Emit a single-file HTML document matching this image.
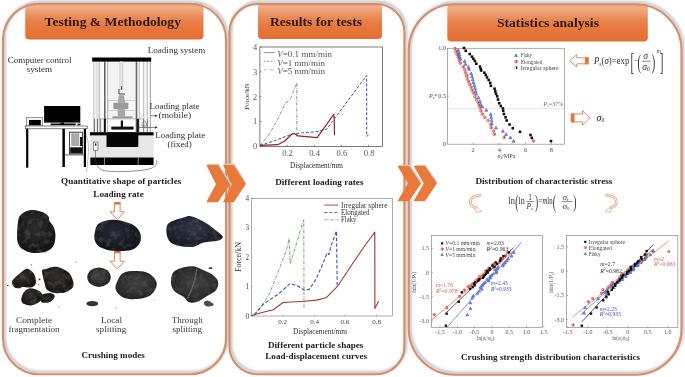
<!DOCTYPE html>
<html><head><meta charset="utf-8"><title>Graphical abstract</title>
<style>
html,body{margin:0;padding:0;background:#fff;}
body{width:685px;height:377px;overflow:hidden;}
svg{display:block;filter:blur(0.35px);font-family:"Liberation Serif","Times New Roman",serif;}
</style></head>
<body>
<svg width="685" height="377" viewBox="0 0 685 377">
<rect width="685" height="377" fill="#fff"/>
<defs>
<linearGradient id="hdr" x1="0" y1="0" x2="0" y2="1">
<stop offset="0" stop-color="#eda07a"/>
<stop offset="0.1" stop-color="#f0ae88"/>
<stop offset="0.42" stop-color="#e98652"/>
<stop offset="0.65" stop-color="#e7783e"/>
<stop offset="1" stop-color="#e36e33"/>
</linearGradient>
<radialGradient id="rockA" cx="0.45" cy="0.4" r="0.6">
<stop offset="0" stop-color="#2c2c2c"/><stop offset="1" stop-color="#151515"/>
</radialGradient>
<radialGradient id="rockE" cx="0.45" cy="0.4" r="0.6">
<stop offset="0" stop-color="#342d2a"/><stop offset="1" stop-color="#181413"/>
</radialGradient>
<radialGradient id="rockB" cx="0.45" cy="0.4" r="0.6">
<stop offset="0" stop-color="#262b36"/><stop offset="1" stop-color="#121419"/>
</radialGradient>
<radialGradient id="rockC" cx="0.5" cy="0.4" r="0.6">
<stop offset="0" stop-color="#2f3646"/><stop offset="1" stop-color="#171a22"/>
</radialGradient>
<radialGradient id="rockD" cx="0.5" cy="0.45" r="0.6">
<stop offset="0" stop-color="#414141"/><stop offset="1" stop-color="#222"/>
</radialGradient>
<filter id="tex" x="-5%" y="-5%" width="110%" height="110%">
<feTurbulence type="fractalNoise" baseFrequency="0.16" numOctaves="2" seed="5" result="n"/>
<feColorMatrix in="n" type="matrix" values="0 0 0 0 0.5  0 0 0 0 0.5  0 0 0 0 0.55  0.18 0 0 0 -0.08" result="w"/>
<feComposite in="w" in2="SourceGraphic" operator="in" result="wm"/>
<feMerge><feMergeNode in="SourceGraphic"/><feMergeNode in="wm"/></feMerge>
</filter>
<filter id="shb" x="-5%" y="-5%" width="110%" height="110%"><feGaussianBlur stdDeviation="0.9"/></filter>
</defs>
<rect x="25.2" y="3.6" width="178.3" height="35.8" rx="4" fill="url(#hdr)"/>
<text x="44.6" y="25.8" text-anchor="start" fill="#2a1a12" style="font-size:13.5px;font-weight:bold;" textLength="136.4" lengthAdjust="spacingAndGlyphs" >Testing &amp; Methodology</text>
<rect x="258.0" y="3.6" width="124.0" height="35.3" rx="4" fill="url(#hdr)"/>
<text x="270.0" y="26.1" text-anchor="start" fill="#2a1a12" style="font-size:13.5px;font-weight:bold;" textLength="92.0" lengthAdjust="spacingAndGlyphs" >Results for tests</text>
<rect x="447.3" y="3.8" width="200.49999999999994" height="37.7" rx="4" fill="url(#hdr)"/>
<text x="496.9" y="26.9" text-anchor="start" fill="#2a1a12" style="font-size:13.5px;font-weight:bold;" textLength="102.1" lengthAdjust="spacingAndGlyphs" >Statistics analysis</text>
<rect x="4.5" y="1.7999999999999998" width="223.1" height="370.4" rx="36" fill="none" stroke="#c3c9cc" stroke-width="2.8" filter="url(#shb)"/>
<rect x="3.0" y="3.8" width="223.1" height="370.4" rx="36" fill="none" stroke="#d88d66" stroke-width="2.1"/>
<rect x="231.0" y="2.0" width="174.89999999999998" height="370.3" rx="28" fill="none" stroke="#c3c9cc" stroke-width="2.8" filter="url(#shb)"/>
<rect x="229.5" y="4.0" width="174.89999999999998" height="370.3" rx="28" fill="none" stroke="#d88d66" stroke-width="2.1"/>
<rect x="410.3" y="2.3" width="272.7" height="370.5" rx="46" fill="none" stroke="#c3c9cc" stroke-width="2.8" filter="url(#shb)"/>
<rect x="408.8" y="4.3" width="272.7" height="370.5" rx="46" fill="none" stroke="#d88d66" stroke-width="2.1"/>
<path d="M207.10000000000002,163.8 L218.70000000000002,163.8 L230.70000000000002,183.0 L218.70000000000002,201.0 L207.10000000000002,201.0 L216.8,183.0 Z" fill="#c9c9c9"/>
<path d="M206.3,165 L217.9,165 L229.9,184.2 L217.9,202.2 L206.3,202.2 L216.0,184.2 Z" fill="#e8793b"/>
<path d="M223.8,163.8 L234.4,163.8 L246.5,183.0 L234.4,201.0 L223.8,201.0 L232.60000000000002,183.0 Z" fill="#c9c9c9"/>
<path d="M223.0,165 L233.6,165 L245.7,184.2 L233.6,202.2 L223.0,202.2 L231.8,184.2 Z" fill="#e8793b"/>
<path d="M398.3,164.8 L409.8,164.8 L421.8,182.20000000000002 L409.8,200.10000000000002 L398.3,200.10000000000002 L408.8,182.20000000000002 Z" fill="#c9c9c9"/>
<path d="M397.5,166 L409.0,166 L421.0,183.4 L409.0,201.3 L397.5,201.3 L408.0,183.4 Z" fill="#e8793b"/>
<path d="M414.40000000000003,164.8 L425.6,164.8 L437.6,182.20000000000002 L425.6,200.10000000000002 L414.40000000000003,200.10000000000002 L424.6,182.20000000000002 Z" fill="#c9c9c9"/>
<path d="M413.6,166 L424.8,166 L436.8,183.4 L424.8,201.3 L413.6,201.3 L423.8,183.4 Z" fill="#e8793b"/>
<rect x="107.5" y="61.4" width="28.8" height="57.2" fill="#f3f3f3" />
<rect x="95.5" y="61.4" width="4.2" height="70.6" fill="#e4e4e4" />
<rect x="143.6" y="61.4" width="3.8" height="70.6" fill="#f3f3f3" />
<line x1="93.9" y1="61.4" x2="93.9" y2="132.2" stroke="#777" stroke-width="0.5" />
<line x1="99.7" y1="61.4" x2="99.7" y2="132.2" stroke="#888" stroke-width="0.5" />
<line x1="104.8" y1="61.4" x2="104.8" y2="132.2" stroke="#666" stroke-width="1.6" />
<line x1="107.6" y1="61.4" x2="107.6" y2="132.2" stroke="#888" stroke-width="0.6" />
<line x1="136.5" y1="61.4" x2="136.5" y2="132.2" stroke="#666" stroke-width="1.6" />
<line x1="139.2" y1="61.4" x2="139.2" y2="132.2" stroke="#888" stroke-width="0.6" />
<line x1="143.6" y1="61.4" x2="143.6" y2="132.2" stroke="#888" stroke-width="0.5" />
<line x1="147.4" y1="61.4" x2="147.4" y2="132.2" stroke="#888" stroke-width="0.5" />
<line x1="150.3" y1="61.4" x2="150.3" y2="132.2" stroke="#555" stroke-width="0.6" />
<rect x="92.2" y="57.5" width="59.0" height="4.1" fill="#000" />
<rect x="119.9" y="61.4" width="3.0" height="27.6" fill="#e6e6e6" stroke="#aaa" stroke-width="0.4"/>
<path d="M119,89 L119,94 L125,94" fill="none" stroke="#333" stroke-width="0.9" />
<line x1="121.5" y1="86" x2="121.5" y2="90" stroke="#333" stroke-width="0.8" />
<rect x="108.1" y="100.6" width="27.6" height="10.0" fill="#f7f7f7" stroke="#999" stroke-width="0.4"/>
<path d="M117.7,102.7 L118.8,95.3 L124.0,95.3 L125.1,102.7 Z" fill="#a6a6a6" stroke="none" stroke-width="0.6" />
<rect x="113.4" y="102.7" width="14.9" height="6.4" fill="#9c9c9c" />
<rect x="117.7" y="109.1" width="7.4" height="7.4" fill="#a8a8a8" />
<rect x="112.4" y="116.3" width="20.1" height="2.0" fill="#9a9a9a" />
<line x1="99.7" y1="118.9" x2="143.6" y2="118.9" stroke="#777" stroke-width="0.5" />
<line x1="94.4" y1="118.9" x2="94.4" y2="132.2" stroke="#222" stroke-width="0.6" />
<line x1="97.5" y1="118.9" x2="97.5" y2="132.2" stroke="#222" stroke-width="0.6" />
<line x1="100.7" y1="118.9" x2="100.7" y2="132.2" stroke="#222" stroke-width="0.6" />
<rect x="103.8" y="118.9" width="2.0" height="13.3" fill="#111" />
<rect x="136.8" y="118.9" width="2.1" height="13.3" fill="#111" />
<line x1="143.6" y1="118.9" x2="143.6" y2="132.2" stroke="#444" stroke-width="0.5" />
<line x1="147.4" y1="118.9" x2="147.4" y2="132.2" stroke="#444" stroke-width="0.5" />
<rect x="111.3" y="126.6" width="22.3" height="3.0" fill="#111" />
<rect x="120.8" y="120.5" width="2.2" height="7.5" fill="#111" />
<path d="M142,126 L142,122.6 L144.2,121.2 L146.3,122.6 L146.3,126 Z" fill="none" stroke="#444" stroke-width="0.5" />
<rect x="90.0" y="132.2" width="63.6" height="3.4" fill="#000" />
<rect x="90.0" y="135.6" width="63.6" height="21.9" fill="#e7e7e7" />
<path d="M106.5,147 L106.5,135 L109.5,132.6 L135.3,132.6 L138.3,135 L138.3,147 Z" fill="#050505" stroke="none" stroke-width="0.6" />
<rect x="90.3" y="157.5" width="63.3" height="7.5" fill="#000" />
<rect x="104.3" y="157.5" width="0.6" height="7.5" fill="#ddd" />
<rect x="137.8" y="157.5" width="0.6" height="7.5" fill="#ddd" />
<rect x="93.3" y="142.0" width="4.7" height="8.5" fill="#f4f4f4" stroke="#333" stroke-width="0.5"/>
<rect x="95.0" y="143.5" width="1.4" height="2.0" fill="#111" />
<path d="M95.5,150.5 C95.5,160 95,166 101.8,170 C110,172.5 135,172 148.3,169.2 C155,167.5 158,164 156.4,160.3" fill="none" stroke="#444" stroke-width="0.6" />
<path d="M84.1,131.4 C89,138 89,150 88,158 C87.5,163 87,168 86.5,172" fill="none" stroke="#999" stroke-width="0.6" />
<line x1="150.7" y1="115.7" x2="156.5" y2="115.7" stroke="#333" stroke-width="0.6" />
<path d="M155.2,114.4 L157.6,115.7 L155.2,117 Z" fill="#333" stroke="none" stroke-width="0.6" />
<line x1="138.5" y1="127.4" x2="156.5" y2="127.4" stroke="#333" stroke-width="0.6" />
<path d="M155.2,126.1 L157.6,127.4 L155.2,128.7 Z" fill="#333" stroke="none" stroke-width="0.6" />
<rect x="44.1" y="106.0" width="36.2" height="16.6" fill="#000" />
<rect x="50.6" y="123.5" width="25.1" height="1.7" fill="#000" />
<rect x="60.5" y="122.5" width="3.5" height="1.5" fill="#000" />
<rect x="77.5" y="123.6" width="3.0" height="1.6" fill="#000" />
<rect x="26.5" y="117.6" width="16.1" height="8.2" fill="#f2f2f2" stroke="#444" stroke-width="0.5"/>
<rect x="29.0" y="120.0" width="11.8" height="5.0" fill="#000" />
<rect x="25.6" y="126.0" width="61.6" height="2.8" fill="#fff" stroke="#333" stroke-width="0.6"/>
<rect x="26.1" y="128.8" width="2.2" height="38.9" fill="#000" />
<rect x="62.4" y="128.8" width="2.5" height="38.2" fill="#000" />
<rect x="83.8" y="128.8" width="2.2" height="38.2" fill="#000" />
<rect x="69.4" y="132.2" width="13.0" height="21.7" fill="#fff" stroke="#111" stroke-width="0.8"/>
<rect x="71.2" y="133.3" width="8.1" height="12.7" fill="#a9a9a9" />
<rect x="80.0" y="137.0" width="2.2" height="9.0" fill="#111" />
<rect x="70.2" y="147.3" width="12.0" height="6.0" fill="#111" />
<line x1="64.9" y1="154.9" x2="83.8" y2="154.9" stroke="#444" stroke-width="0.8" />
<text x="7.7" y="62.5" text-anchor="start" fill="#2f2f2f" style="font-size:9.2px;" textLength="63.9" lengthAdjust="spacingAndGlyphs" >Computer control</text>
<text x="26.8" y="71.6" text-anchor="start" fill="#2f2f2f" style="font-size:9.2px;" textLength="25.2" lengthAdjust="spacingAndGlyphs" >system</text>
<text x="147.8" y="53.0" text-anchor="start" fill="#2f2f2f" style="font-size:9.2px;" textLength="57.5" lengthAdjust="spacingAndGlyphs" >Loading system</text>
<text x="149.5" y="109.1" text-anchor="start" fill="#2f2f2f" style="font-size:9.2px;" textLength="50.0" lengthAdjust="spacingAndGlyphs" >Loading plate</text>
<text x="158.6" y="118.3" text-anchor="start" fill="#2f2f2f" style="font-size:9.2px;" textLength="32.6" lengthAdjust="spacingAndGlyphs" >(mobile)</text>
<text x="155.2" y="138.1" text-anchor="start" fill="#2f2f2f" style="font-size:9.2px;" textLength="50.0" lengthAdjust="spacingAndGlyphs" >Loading plate</text>
<text x="167.6" y="146.7" text-anchor="start" fill="#2f2f2f" style="font-size:9.2px;" textLength="24.1" lengthAdjust="spacingAndGlyphs" >(fixed)</text>
<text x="61.0" y="183.6" text-anchor="start" fill="#222" style="font-size:9.1px;font-weight:bold;" textLength="120.3" lengthAdjust="spacingAndGlyphs" >Quantitative shape of particles</text>
<text x="93.3" y="196.9" text-anchor="start" fill="#222" style="font-size:9.1px;font-weight:bold;" textLength="50.4" lengthAdjust="spacingAndGlyphs" >Loading rate</text>
<text x="16.0" y="323.4" text-anchor="start" fill="#3a3a3a" style="font-size:9.2px;" textLength="36.0" lengthAdjust="spacingAndGlyphs" >Complete</text>
<text x="8.4" y="332.0" text-anchor="start" fill="#3a3a3a" style="font-size:9.2px;" textLength="51.2" lengthAdjust="spacingAndGlyphs" >fragmentation</text>
<text x="101.0" y="323.2" text-anchor="start" fill="#3a3a3a" style="font-size:9.2px;" textLength="21.0" lengthAdjust="spacingAndGlyphs" >Local</text>
<text x="96.0" y="332.2" text-anchor="start" fill="#3a3a3a" style="font-size:9.2px;" textLength="30.3" lengthAdjust="spacingAndGlyphs" >splitting</text>
<text x="171.7" y="323.2" text-anchor="start" fill="#3a3a3a" style="font-size:9.2px;" textLength="31.0" lengthAdjust="spacingAndGlyphs" >Through</text>
<text x="172.4" y="332.2" text-anchor="start" fill="#3a3a3a" style="font-size:9.2px;" textLength="29.6" lengthAdjust="spacingAndGlyphs" >splitting</text>
<text x="81.5" y="358.3" text-anchor="start" fill="#222" style="font-size:9.1px;font-weight:bold;" textLength="63.3" lengthAdjust="spacingAndGlyphs" >Crushing modes</text>
<path d="M114.5,202.6 L120.1,202.6 L120.1,211.79999999999998 L124.5,211.79999999999998 L117.3,219.6 L110.1,211.79999999999998 L114.5,211.79999999999998 Z" fill="#fff" stroke="#e08a55" stroke-width="1.0" />
<rect x="114.0" y="202.1" width="6.6" height="2.5" fill="#e07a3e" />
<path d="M114.5,251.3 L120.1,251.3 L120.1,261.2 L124.5,261.2 L117.3,269.0 L110.1,261.2 L114.5,261.2 Z" fill="#fff" stroke="#e08a55" stroke-width="1.0" />
<rect x="114.0" y="250.8" width="6.6" height="2.5" fill="#e07a3e" />
<path d="M17.6,225.2 C18.0,222.4 18.1,219.0 19.3,216.8 C20.6,214.6 22.7,212.9 25.1,211.8 C27.5,210.7 30.4,210.0 33.5,210.1 C36.6,210.2 41.1,211.5 43.6,212.6 C46.1,213.7 47.6,215.4 48.6,216.8 C49.6,218.2 48.6,219.3 49.5,221.0 C50.4,222.7 52.7,224.5 53.7,226.9 C54.7,229.3 55.4,232.2 55.4,235.3 C55.4,238.4 55.1,242.7 53.7,245.3 C52.3,248.0 50.4,249.9 47.0,251.2 C43.6,252.5 37.7,253.3 33.5,252.9 C29.3,252.5 24.4,250.5 21.8,248.7 C19.2,246.9 18.4,244.5 17.6,242.0 C16.8,239.5 17.1,236.4 17.1,233.6 C17.1,230.8 17.2,228.0 17.6,225.2 Z" fill="url(#rockA)" stroke="none" stroke-width="0.6" filter="url(#tex)"/>
<path d="M94.5,234.2 C94.9,231.4 95.8,226.9 97.7,224.6 C99.7,222.3 103.0,221.2 106.2,220.4 C109.4,219.6 113.3,219.7 116.8,220.0 C120.3,220.3 124.1,221.4 127.3,222.5 C130.5,223.6 133.6,224.9 135.8,226.8 C138.0,228.8 139.8,231.6 140.5,234.2 C141.2,236.8 141.1,240.1 140.0,242.6 C138.9,245.1 136.5,247.6 133.7,249.0 C130.9,250.4 127.0,250.8 123.1,251.1 C119.2,251.3 114.3,251.2 110.4,250.5 C106.5,249.8 102.3,248.4 99.8,246.9 C97.3,245.4 96.1,243.7 95.2,241.6 C94.3,239.5 94.1,237.0 94.5,234.2 Z" fill="url(#rockB)" stroke="none" stroke-width="0.6" filter="url(#tex)"/>
<path d="M167.6,224.6 C168.8,222.5 171.1,221.6 173.9,220.4 C176.7,219.2 181.7,217.9 184.5,217.2 C187.3,216.5 187.6,215.5 190.8,216.2 C194.0,216.9 199.6,219.4 203.5,221.5 C207.4,223.6 210.9,226.4 214.1,228.9 C217.3,231.4 221.9,234.4 222.6,236.3 C223.3,238.2 221.6,239.4 218.4,240.5 C215.2,241.6 207.7,241.5 203.5,242.6 C199.3,243.7 197.2,246.4 193.0,246.9 C188.8,247.4 182.0,246.7 178.1,245.8 C174.2,244.9 171.6,243.7 169.7,241.6 C167.8,239.5 166.8,235.9 166.5,233.1 C166.2,230.3 166.4,226.7 167.6,224.6 Z" fill="url(#rockC)" stroke="none" stroke-width="0.6" filter="url(#tex)"/>
<path d="M11.9,282.1 C12.0,280.6 13.3,279.4 14.7,277.9 C16.1,276.4 18.4,274.6 20.2,273.1 C22.0,271.6 24.0,269.5 25.7,269.0 C27.4,268.5 29.0,269.3 30.5,270.3 C32.0,271.3 33.8,273.2 34.7,275.2 C35.6,277.2 36.1,280.3 36.0,282.1 C35.9,283.9 35.1,285.3 34.0,286.2 C32.9,287.1 31.0,287.5 29.1,287.6 C27.2,287.7 24.6,286.8 22.9,286.9 C21.2,287.0 20.3,288.3 18.8,288.3 C17.3,288.3 15.2,287.9 14.0,286.9 C12.8,285.9 11.8,283.6 11.9,282.1 Z" fill="url(#rockE)" stroke="none" stroke-width="0.6" filter="url(#tex)"/>
<path d="M42.2,270.3 C42.8,269.0 45.0,269.4 46.4,269.0 C47.8,268.6 48.7,268.0 50.5,267.6 C52.3,267.2 55.1,266.5 57.4,266.9 C59.7,267.2 62.2,268.5 64.3,269.7 C66.4,270.9 68.3,271.7 69.8,273.8 C71.3,275.9 72.8,279.8 73.3,282.1 C73.8,284.4 73.6,286.0 72.6,287.6 C71.6,289.2 69.2,290.8 67.1,291.7 C65.0,292.6 62.7,293.0 60.2,293.1 C57.7,293.2 54.2,293.1 51.9,292.4 C49.6,291.7 47.7,290.7 46.4,289.0 C45.1,287.3 44.9,284.2 44.3,282.1 C43.7,280.0 43.2,278.6 42.9,276.6 C42.5,274.6 41.6,271.6 42.2,270.3 Z" fill="url(#rockE)" stroke="none" stroke-width="0.6" filter="url(#tex)"/>
<path d="M21.6,297.2 C22.1,295.6 22.9,293.2 24.3,291.7 C25.7,290.2 27.7,288.6 29.8,288.3 C31.9,288.0 34.7,288.9 36.7,289.7 C38.7,290.5 40.7,291.6 41.6,293.1 C42.5,294.6 42.8,297.0 42.2,298.6 C41.6,300.2 39.9,301.7 38.1,302.8 C36.3,303.9 33.5,305.3 31.2,305.5 C28.9,305.7 25.9,304.8 24.3,304.1 C22.7,303.4 22.1,302.5 21.6,301.4 C21.2,300.2 21.2,298.8 21.6,297.2 Z" fill="url(#rockE)" stroke="none" stroke-width="0.6" filter="url(#tex)"/>
<path d="M42.2,294.5 C43.1,293.2 44.6,293.8 46.0,293.6 C47.4,293.4 49.0,292.7 50.5,293.1 C52.0,293.5 54.5,294.6 54.7,295.9 C54.9,297.2 53.3,299.5 51.9,300.7 C50.5,301.9 48.2,302.7 46.4,302.8 C44.6,302.9 41.6,302.8 40.9,301.4 C40.2,300.0 41.4,295.8 42.2,294.5 Z" fill="#221c1b" stroke="none" stroke-width="0.6" filter="url(#tex)"/>
<ellipse cx="99" cy="277.2" rx="11.7" ry="9.7" fill="url(#rockD)" filter="url(#tex)"/>
<ellipse cx="92.3" cy="303.7" rx="5.9" ry="2.6" fill="#333"/>
<path d="M115.5,287.4 C115.5,285.1 116.9,281.8 118.1,279.5 C119.3,277.2 120.3,274.8 122.5,273.4 C124.7,272.0 127.8,271.4 131.3,271.1 C134.8,270.8 140.0,270.8 143.5,271.6 C147.0,272.4 150.1,274.1 152.3,276.0 C154.5,277.9 156.3,280.7 156.7,283.0 C157.1,285.3 156.2,287.8 154.9,290.0 C153.6,292.2 151.9,294.7 148.8,296.2 C145.7,297.7 140.6,298.8 136.5,299.1 C132.4,299.4 127.4,298.8 124.3,297.9 C121.2,297.0 119.6,295.2 118.1,293.5 C116.6,291.8 115.5,289.7 115.5,287.4 Z" fill="url(#rockD)" stroke="none" stroke-width="0.6" filter="url(#tex)"/>
<path d="M171.6,276.0 C172.2,273.7 173.1,272.2 175.1,270.8 C177.1,269.4 180.6,268.0 183.8,267.3 C187.0,266.6 191.1,266.0 194.3,266.4 C197.5,266.8 200.2,268.6 203.1,269.9 C206.0,271.2 209.4,272.4 211.9,274.3 C214.4,276.2 217.3,278.7 218.0,281.3 C218.7,283.9 217.8,287.7 216.2,290.0 C214.6,292.3 211.4,293.4 208.4,295.3 C205.4,297.2 201.1,300.2 197.9,301.4 C194.7,302.6 191.4,303.0 189.1,302.3 C186.8,301.6 186.1,298.8 183.8,297.0 C181.5,295.2 177.2,293.8 175.1,291.8 C173.0,289.8 171.8,287.4 171.2,284.8 C170.6,282.2 170.9,278.3 171.6,276.0 Z" fill="url(#rockD)" stroke="none" stroke-width="0.6" filter="url(#tex)"/>
<path d="M197,268.5 C196,274 195,279 194.3,281.3 C192.5,288 190,294 187.3,298.8" fill="none" stroke="#9a9a9a" stroke-width="1.1" />
<path d="M197,268.5 C196,274 195,279 194.3,281.3 C192.5,288 190,294 187.3,298.8" fill="none" stroke="#151515" stroke-width="0.5" />
<path d="M204.0,302.3 C204.3,301.5 205.8,300.6 207.0,300.5 C208.2,300.4 209.9,301.2 211.0,302.0 C212.1,302.8 213.9,304.2 213.6,305.0 C213.3,305.8 210.4,306.4 209.0,306.5 C207.6,306.6 205.8,306.2 205.0,305.5 C204.2,304.8 203.7,303.1 204.0,302.3 Z" fill="#444" stroke="none" stroke-width="0.6" filter="url(#tex)"/>
<ellipse cx="210.5" cy="268.2" rx="2" ry="0.9" fill="#333"/>
<circle cx="39.5" cy="279.3" r="1.0" fill="#444"/>
<circle cx="7.8" cy="285.5" r="0.8" fill="#444"/>
<circle cx="31.2" cy="264.8" r="0.6" fill="#444"/>
<circle cx="38.5" cy="284.5" r="0.5" fill="#444"/>
<circle cx="59" cy="307" r="0.5" fill="#444"/>
<circle cx="76" cy="262" r="0.5" fill="#444"/>
<circle cx="116" cy="308" r="0.5" fill="#444"/>
<circle cx="45" cy="252" r="0.7" fill="#444"/>
<circle cx="154" cy="300" r="0.4" fill="#444"/>
<rect x="259.9" y="47.0" width="122.70000000000005" height="99.4" fill="none" stroke="#444" stroke-width="0.7"/>
<text x="257.2" y="149.3" text-anchor="end" fill="#555" style="font-size:8.4px;" >0</text>
<line x1="259.9" y1="146.4" x2="261.5" y2="146.4" stroke="#444" stroke-width="0.6" />
<text x="257.2" y="124.45000000000002" text-anchor="end" fill="#555" style="font-size:8.4px;" >1</text>
<line x1="259.9" y1="121.55000000000001" x2="261.5" y2="121.55000000000001" stroke="#444" stroke-width="0.6" />
<text x="257.2" y="99.60000000000001" text-anchor="end" fill="#555" style="font-size:8.4px;" >2</text>
<line x1="259.9" y1="96.7" x2="261.5" y2="96.7" stroke="#444" stroke-width="0.6" />
<text x="257.2" y="74.75" text-anchor="end" fill="#555" style="font-size:8.4px;" >3</text>
<line x1="259.9" y1="71.85" x2="261.5" y2="71.85" stroke="#444" stroke-width="0.6" />
<text x="257.2" y="49.9" text-anchor="end" fill="#555" style="font-size:8.4px;" >4</text>
<line x1="259.9" y1="47.0" x2="261.5" y2="47.0" stroke="#444" stroke-width="0.6" />
<text x="287.49999999999994" y="156.4" text-anchor="middle" fill="#555" style="font-size:8.6px;" >0.2</text>
<line x1="287.09999999999997" y1="146.4" x2="287.09999999999997" y2="144.8" stroke="#444" stroke-width="0.6" />
<text x="314.69999999999993" y="156.4" text-anchor="middle" fill="#555" style="font-size:8.6px;" >0.4</text>
<line x1="314.29999999999995" y1="146.4" x2="314.29999999999995" y2="144.8" stroke="#444" stroke-width="0.6" />
<text x="341.9" y="156.4" text-anchor="middle" fill="#555" style="font-size:8.6px;" >0.6</text>
<line x1="341.5" y1="146.4" x2="341.5" y2="144.8" stroke="#444" stroke-width="0.6" />
<text x="369.09999999999997" y="156.4" text-anchor="middle" fill="#555" style="font-size:8.6px;" >0.8</text>
<line x1="368.7" y1="146.4" x2="368.7" y2="144.8" stroke="#444" stroke-width="0.6" />
<text x="316.5" y="168.4" text-anchor="middle" fill="#2a2a2a" style="font-size:7.6px;" textLength="53" lengthAdjust="spacingAndGlyphs" >Displacement/mm</text>
<text x="0" y="0" text-anchor="middle" fill="#333" style="font-size:6.4px;" textLength="26.6" lengthAdjust="spacingAndGlyphs" transform="translate(248.5,96.5) rotate(-90)">Force/kN</text>
<line x1="263.7" y1="52.6" x2="274.9" y2="52.6" stroke="#888" stroke-width="0.9" />
<line x1="263.7" y1="61.2" x2="274.9" y2="61.2" stroke="#888" stroke-width="0.9" stroke-dasharray="2,1.5"/>
<line x1="263.7" y1="69.9" x2="274.9" y2="69.9" stroke="#aaa" stroke-width="0.8" stroke-dasharray="3,1.2,0.8,1.2"/>
<text x="277.3" y="57.0" text-anchor="start" fill="#555" style="font-size:8.4px;" textLength="54.6" lengthAdjust="spacingAndGlyphs" ><tspan font-style="italic">V</tspan>=0.1 mm/min</text>
<text x="277.3" y="65.7" text-anchor="start" fill="#555" style="font-size:8.4px;" textLength="47.8" lengthAdjust="spacingAndGlyphs" ><tspan font-style="italic">V</tspan>=1 mm/min</text>
<text x="277.3" y="74.4" text-anchor="start" fill="#555" style="font-size:8.4px;" textLength="47.8" lengthAdjust="spacingAndGlyphs" ><tspan font-style="italic">V</tspan>=5 mm/min</text>
<path d="M260.2,145.4 L269.3,134.0 L278.9,117.3 L284.8,104.2 L290.8,98.2 L296.8,82.7 L296.8,137.6" fill="none" stroke="#5e9a52" stroke-width="0.9" stroke-dasharray="3,1.2,0.8,1.2" stroke-linejoin="round" />
<path d="M260.0,145.4 L274.0,141.0 L292.0,134.0 L302.7,132.8 L317.0,131.6 L326.6,129.2 L366.7,75.5 L366.7,136.4 L368.6,134.8" fill="none" stroke="#3d4fae" stroke-width="1.0" stroke-dasharray="3,1.8" stroke-linejoin="round" />
<path d="M260.0,145.4 L277.7,144.7 L284.8,141.0 L292.0,134.0 L294.4,133.5 L298.0,135.9 L317.0,137.6 L320.6,132.8 L333.8,114.4 L334.3,120.0 L334.5,135.2" fill="none" stroke="#8e2430" stroke-width="1.2" stroke-linejoin="round" />
<text x="275.2" y="185.4" text-anchor="start" fill="#222" style="font-size:9.1px;font-weight:bold;" textLength="88.3" lengthAdjust="spacingAndGlyphs" >Different loading rates</text>
<rect x="251.4" y="198.5" width="141.1" height="117.5" fill="none" stroke="#9a9a9a" stroke-width="0.8"/>
<text x="249.0" y="318.5" text-anchor="end" fill="#444" style="font-size:7.2px;" >0</text>
<line x1="251.4" y1="316.0" x2="252.9" y2="316.0" stroke="#777" stroke-width="0.5" />
<text x="249.0" y="289.1" text-anchor="end" fill="#444" style="font-size:7.2px;" >1</text>
<line x1="251.4" y1="286.6" x2="252.9" y2="286.6" stroke="#777" stroke-width="0.5" />
<text x="249.0" y="259.7" text-anchor="end" fill="#444" style="font-size:7.2px;" >2</text>
<line x1="251.4" y1="257.2" x2="252.9" y2="257.2" stroke="#777" stroke-width="0.5" />
<text x="249.0" y="230.3" text-anchor="end" fill="#444" style="font-size:7.2px;" >3</text>
<line x1="251.4" y1="227.8" x2="252.9" y2="227.8" stroke="#777" stroke-width="0.5" />
<text x="249.0" y="200.9" text-anchor="end" fill="#444" style="font-size:7.2px;" >4</text>
<line x1="251.4" y1="198.4" x2="252.9" y2="198.4" stroke="#777" stroke-width="0.5" />
<text x="282.6" y="323.8" text-anchor="middle" fill="#444" style="font-size:7.0px;" >0.2</text>
<line x1="282.6" y1="316.0" x2="282.6" y2="314.5" stroke="#777" stroke-width="0.5" />
<text x="314.5" y="323.8" text-anchor="middle" fill="#444" style="font-size:7.0px;" >0.4</text>
<line x1="314.5" y1="316.0" x2="314.5" y2="314.5" stroke="#777" stroke-width="0.5" />
<text x="344.8" y="323.8" text-anchor="middle" fill="#444" style="font-size:7.0px;" >0.6</text>
<line x1="344.8" y1="316.0" x2="344.8" y2="314.5" stroke="#777" stroke-width="0.5" />
<text x="376.5" y="323.8" text-anchor="middle" fill="#444" style="font-size:7.0px;" >0.8</text>
<line x1="376.5" y1="316.0" x2="376.5" y2="314.5" stroke="#777" stroke-width="0.5" />
<text x="320.0" y="333.6" text-anchor="middle" fill="#333" style="font-size:7.6px;" textLength="54" lengthAdjust="spacingAndGlyphs" >Displacement/mm</text>
<text x="0" y="0" text-anchor="middle" fill="#333" style="font-size:7.2px;" textLength="30" lengthAdjust="spacingAndGlyphs" transform="translate(241.2,257.0) rotate(-90)">Force/kN</text>
<line x1="324.3" y1="205.1" x2="338.3" y2="205.1" stroke="#9c3a32" stroke-width="0.9" />
<line x1="324.3" y1="212.6" x2="338.3" y2="212.6" stroke="#3d4fae" stroke-width="0.9" stroke-dasharray="3,2"/>
<line x1="324.3" y1="219.8" x2="338.3" y2="219.8" stroke="#5e9a52" stroke-width="0.8" stroke-dasharray="3,1.2,0.8,1.2"/>
<text x="341.0" y="207.6" text-anchor="start" fill="#333" style="font-size:7.4px;" textLength="46.4" lengthAdjust="spacingAndGlyphs" >Irregular sphere</text>
<text x="341.0" y="215.1" text-anchor="start" fill="#333" style="font-size:7.4px;" textLength="28.5" lengthAdjust="spacingAndGlyphs" >Elongated</text>
<text x="341.0" y="222.3" text-anchor="start" fill="#333" style="font-size:7.4px;" textLength="15.5" lengthAdjust="spacingAndGlyphs" >Flaky</text>
<path d="M254.3,315.7 L268.7,295.4 L275.6,278.4 L286.6,250.0 L289.1,238.3 L290.2,263.8 L303.8,219.8 L304.0,308.5" fill="none" stroke="#5e9a52" stroke-width="0.9" stroke-dasharray="3,1.2,0.8,1.2" stroke-linejoin="round" />
<path d="M254.3,314.5 L263.9,303.7 L278.2,294.2 L290.2,283.4 L297.3,285.8 L304.5,290.1 L309.3,289.4 L316.4,278.6 L323.6,261.9 L327.0,253.0 L329.0,254.5 L331.0,246.0 L336.5,231.0 L337.2,285.8" fill="none" stroke="#3d4fae" stroke-width="1.1" stroke-dasharray="3.5,2" stroke-linejoin="round" />
<path d="M250.7,315.7 L259.1,313.3 L273.4,309.7 L283.0,302.5 L304.5,301.3 L316.4,300.1 L326.0,297.8 L337.9,285.8 L352.2,264.3 L361.8,250.0 L366.0,244.0 L370.5,238.0 L374.8,232.2 L374.9,308.5 L378.5,301.3" fill="none" stroke="#9c3a32" stroke-width="1.1" stroke-linejoin="round" />
<text x="268.0" y="347.8" text-anchor="start" fill="#222" style="font-size:9.1px;font-weight:bold;" textLength="95.4" lengthAdjust="spacingAndGlyphs" >Different particle shapes</text>
<text x="265.3" y="359.4" text-anchor="start" fill="#222" style="font-size:9.1px;font-weight:bold;" textLength="101.8" lengthAdjust="spacingAndGlyphs" >Load-displacement curves</text>
<rect x="447.4" y="48.3" width="116.89999999999998" height="95.89999999999999" fill="none" stroke="#8a8a8a" stroke-width="0.7"/>
<text x="446.0" y="50.2" text-anchor="end" fill="#444" style="font-size:6.2px;" >1.0</text>
<text x="446.0" y="98.2" text-anchor="end" fill="#444" style="font-size:6.2px;" >0.5</text>
<text x="446.0" y="146.2" text-anchor="end" fill="#444" style="font-size:6.2px;" >0</text>
<line x1="447.4" y1="96.2" x2="448.9" y2="96.2" stroke="#666" stroke-width="0.5" />
<text x="429.0" y="98.0" text-anchor="start" fill="#444" style="font-size:6.0px;" ><tspan font-style="italic">P</tspan><tspan font-size="4" dy="1.2">s</tspan><tspan dy="-1.2">*</tspan></text>
<text x="473.2" y="151.5" text-anchor="middle" fill="#444" style="font-size:6.4px;" >2</text>
<line x1="473.2" y1="144.2" x2="473.2" y2="142.7" stroke="#666" stroke-width="0.5" />
<text x="499.3" y="151.5" text-anchor="middle" fill="#444" style="font-size:6.4px;" >4</text>
<line x1="499.3" y1="144.2" x2="499.3" y2="142.7" stroke="#666" stroke-width="0.5" />
<text x="525.5" y="151.5" text-anchor="middle" fill="#444" style="font-size:6.4px;" >6</text>
<line x1="525.5" y1="144.2" x2="525.5" y2="142.7" stroke="#666" stroke-width="0.5" />
<text x="551.4" y="151.5" text-anchor="middle" fill="#444" style="font-size:6.4px;" >8</text>
<line x1="551.4" y1="144.2" x2="551.4" y2="142.7" stroke="#666" stroke-width="0.5" />
<text x="506.5" y="158.2" text-anchor="middle" fill="#444" style="font-size:6.2px;" ><tspan font-style="italic">σ</tspan><tspan font-size="4" dy="1">f</tspan><tspan dy="-1">/MPa</tspan></text>
<line x1="447.4" y1="108.8" x2="564.3" y2="108.8" stroke="#999" stroke-width="0.6" stroke-dasharray="0.9,1.1"/>
<text x="543.6" y="106.2" text-anchor="start" fill="#666" style="font-size:6.0px;" ><tspan font-style="italic">P</tspan><tspan font-size="4" dy="1">s</tspan><tspan dy="-1">=37%</tspan></text>
<path d="M516.0,53.9 L517.4,56.5 L514.6,56.5 Z" fill="#8da0e0" stroke="#3b55b5" stroke-width="0.6"/>
<circle cx="516.0" cy="61.6" r="1.4" fill="#f2c0b8" stroke="#d9473c" stroke-width="0.6"/>
<path d="M516.0,60.2 A1.4,1.4 0 0 1 516.0,63.0 Z" fill="#d9473c"/>
<rect x="514.7" y="66.4" width="2.6" height="2.6" fill="#111"/>
<rect x="514.7" y="66.4" width="1.3" height="2.6" fill="#fff"/>
<text x="520.8" y="57.4" text-anchor="start" fill="#444" style="font-size:6.0px;" textLength="11.0" lengthAdjust="spacingAndGlyphs" >Flaky</text>
<text x="520.8" y="63.7" text-anchor="start" fill="#444" style="font-size:6.0px;" textLength="21.5" lengthAdjust="spacingAndGlyphs" >Elongated</text>
<text x="520.8" y="69.8" text-anchor="start" fill="#444" style="font-size:6.0px;" textLength="37.9" lengthAdjust="spacingAndGlyphs" >Irregular sphere</text>
<rect x="462.7" y="46.7" width="2.6" height="2.6" fill="#111"/>
<rect x="464.5" y="49.5" width="2.6" height="2.6" fill="#111"/>
<rect x="468.5" y="52.7" width="2.6" height="2.6" fill="#111"/>
<rect x="470.7" y="55.4" width="2.6" height="2.6" fill="#111"/>
<rect x="472.1" y="57.5" width="2.6" height="2.6" fill="#111"/>
<rect x="473.6" y="59.7" width="2.6" height="2.6" fill="#111"/>
<rect x="475.0" y="62.4" width="2.6" height="2.6" fill="#111"/>
<rect x="478.7" y="65.3" width="2.6" height="2.6" fill="#111"/>
<rect x="479.4" y="67.7" width="2.6" height="2.6" fill="#111"/>
<rect x="479.9" y="69.2" width="2.6" height="2.6" fill="#111"/>
<rect x="483.1" y="71.4" width="2.6" height="2.6" fill="#111"/>
<rect x="484.5" y="73.6" width="2.6" height="2.6" fill="#111"/>
<rect x="485.7" y="76.1" width="2.6" height="2.6" fill="#111"/>
<rect x="487.4" y="78.7" width="2.6" height="2.6" fill="#111"/>
<rect x="488.9" y="81.6" width="2.6" height="2.6" fill="#111"/>
<rect x="489.6" y="84.5" width="2.6" height="2.6" fill="#111"/>
<rect x="493.3" y="87.4" width="2.6" height="2.6" fill="#111"/>
<rect x="494.0" y="90.1" width="2.6" height="2.6" fill="#111"/>
<rect x="494.7" y="92.5" width="2.6" height="2.6" fill="#111"/>
<rect x="495.9" y="95.0" width="2.6" height="2.6" fill="#111"/>
<rect x="496.7" y="98.2" width="2.6" height="2.6" fill="#111"/>
<rect x="497.9" y="101.9" width="2.6" height="2.6" fill="#111"/>
<rect x="499.5" y="104.7" width="2.6" height="2.6" fill="#111"/>
<rect x="501.6" y="107.2" width="2.6" height="2.6" fill="#111"/>
<rect x="501.9" y="109.6" width="2.6" height="2.6" fill="#111"/>
<rect x="502.7" y="112.8" width="2.6" height="2.6" fill="#111"/>
<rect x="504.3" y="116.0" width="2.6" height="2.6" fill="#111"/>
<rect x="505.4" y="119.2" width="2.6" height="2.6" fill="#111"/>
<rect x="508.3" y="123.2" width="2.6" height="2.6" fill="#111"/>
<rect x="511.5" y="126.9" width="2.6" height="2.6" fill="#111"/>
<rect x="518.7" y="130.5" width="2.6" height="2.6" fill="#111"/>
<rect x="529.2" y="133.7" width="2.6" height="2.6" fill="#111"/>
<rect x="530.5" y="136.6" width="2.6" height="2.6" fill="#111"/>
<rect x="549.7" y="139.8" width="2.6" height="2.6" fill="#111"/>
<circle cx="454.9" cy="48.6" r="1.35" fill="#f2c0b8" stroke="#d9473c" stroke-width="0.6"/>
<path d="M454.9,47.2 A1.35,1.35 0 0 1 454.9,50.0 Z" fill="#d9473c"/>
<circle cx="455.9" cy="51.6" r="1.35" fill="#f2c0b8" stroke="#d9473c" stroke-width="0.6"/>
<path d="M455.9,50.2 A1.35,1.35 0 0 1 455.9,53.0 Z" fill="#d9473c"/>
<circle cx="457.0" cy="54.5" r="1.35" fill="#f2c0b8" stroke="#d9473c" stroke-width="0.6"/>
<path d="M457.0,53.1 A1.35,1.35 0 0 1 457.0,55.9 Z" fill="#d9473c"/>
<circle cx="458.2" cy="57.4" r="1.35" fill="#f2c0b8" stroke="#d9473c" stroke-width="0.6"/>
<path d="M458.2,56.0 A1.35,1.35 0 0 1 458.2,58.8 Z" fill="#d9473c"/>
<circle cx="459.3" cy="60.3" r="1.35" fill="#f2c0b8" stroke="#d9473c" stroke-width="0.6"/>
<path d="M459.3,58.9 A1.35,1.35 0 0 1 459.3,61.6 Z" fill="#d9473c"/>
<circle cx="460.3" cy="63.2" r="1.35" fill="#f2c0b8" stroke="#d9473c" stroke-width="0.6"/>
<path d="M460.3,61.9 A1.35,1.35 0 0 1 460.3,64.5 Z" fill="#d9473c"/>
<circle cx="463.2" cy="66.9" r="1.35" fill="#f2c0b8" stroke="#d9473c" stroke-width="0.6"/>
<path d="M463.2,65.6 A1.35,1.35 0 0 1 463.2,68.2 Z" fill="#d9473c"/>
<circle cx="464.7" cy="69.8" r="1.35" fill="#f2c0b8" stroke="#d9473c" stroke-width="0.6"/>
<path d="M464.7,68.5 A1.35,1.35 0 0 1 464.7,71.1 Z" fill="#d9473c"/>
<circle cx="465.4" cy="72.7" r="1.35" fill="#f2c0b8" stroke="#d9473c" stroke-width="0.6"/>
<path d="M465.4,71.4 A1.35,1.35 0 0 1 465.4,74.0 Z" fill="#d9473c"/>
<circle cx="466.6" cy="75.6" r="1.35" fill="#f2c0b8" stroke="#d9473c" stroke-width="0.6"/>
<path d="M466.6,74.2 A1.35,1.35 0 0 1 466.6,76.9 Z" fill="#d9473c"/>
<circle cx="467.2" cy="78.5" r="1.35" fill="#f2c0b8" stroke="#d9473c" stroke-width="0.6"/>
<path d="M467.2,77.2 A1.35,1.35 0 0 1 467.2,79.8 Z" fill="#d9473c"/>
<circle cx="468.3" cy="81.4" r="1.35" fill="#f2c0b8" stroke="#d9473c" stroke-width="0.6"/>
<path d="M468.3,80.1 A1.35,1.35 0 0 1 468.3,82.8 Z" fill="#d9473c"/>
<circle cx="469.8" cy="84.4" r="1.35" fill="#f2c0b8" stroke="#d9473c" stroke-width="0.6"/>
<path d="M469.8,83.1 A1.35,1.35 0 0 1 469.8,85.8 Z" fill="#d9473c"/>
<circle cx="471.2" cy="87.3" r="1.35" fill="#f2c0b8" stroke="#d9473c" stroke-width="0.6"/>
<path d="M471.2,86.0 A1.35,1.35 0 0 1 471.2,88.6 Z" fill="#d9473c"/>
<circle cx="472.0" cy="90.2" r="1.35" fill="#f2c0b8" stroke="#d9473c" stroke-width="0.6"/>
<path d="M472.0,88.9 A1.35,1.35 0 0 1 472.0,91.5 Z" fill="#d9473c"/>
<circle cx="473.4" cy="93.1" r="1.35" fill="#f2c0b8" stroke="#d9473c" stroke-width="0.6"/>
<path d="M473.4,91.8 A1.35,1.35 0 0 1 473.4,94.4 Z" fill="#d9473c"/>
<circle cx="474.9" cy="96.8" r="1.35" fill="#f2c0b8" stroke="#d9473c" stroke-width="0.6"/>
<path d="M474.9,95.5 A1.35,1.35 0 0 1 474.9,98.1 Z" fill="#d9473c"/>
<circle cx="476.5" cy="99.5" r="1.35" fill="#f2c0b8" stroke="#d9473c" stroke-width="0.6"/>
<path d="M476.5,98.2 A1.35,1.35 0 0 1 476.5,100.8 Z" fill="#d9473c"/>
<circle cx="478.0" cy="102.5" r="1.35" fill="#f2c0b8" stroke="#d9473c" stroke-width="0.6"/>
<path d="M478.0,101.2 A1.35,1.35 0 0 1 478.0,103.8 Z" fill="#d9473c"/>
<circle cx="479.1" cy="105.3" r="1.35" fill="#f2c0b8" stroke="#d9473c" stroke-width="0.6"/>
<path d="M479.1,104.0 A1.35,1.35 0 0 1 479.1,106.6 Z" fill="#d9473c"/>
<circle cx="479.9" cy="107.7" r="1.35" fill="#f2c0b8" stroke="#d9473c" stroke-width="0.6"/>
<path d="M479.9,106.4 A1.35,1.35 0 0 1 479.9,109.0 Z" fill="#d9473c"/>
<circle cx="481.0" cy="110.9" r="1.35" fill="#f2c0b8" stroke="#d9473c" stroke-width="0.6"/>
<path d="M481.0,109.6 A1.35,1.35 0 0 1 481.0,112.2 Z" fill="#d9473c"/>
<circle cx="482.3" cy="114.1" r="1.35" fill="#f2c0b8" stroke="#d9473c" stroke-width="0.6"/>
<path d="M482.3,112.8 A1.35,1.35 0 0 1 482.3,115.4 Z" fill="#d9473c"/>
<circle cx="484.7" cy="117.3" r="1.35" fill="#f2c0b8" stroke="#d9473c" stroke-width="0.6"/>
<path d="M484.7,116.0 A1.35,1.35 0 0 1 484.7,118.6 Z" fill="#d9473c"/>
<circle cx="487.9" cy="120.5" r="1.35" fill="#f2c0b8" stroke="#d9473c" stroke-width="0.6"/>
<path d="M487.9,119.2 A1.35,1.35 0 0 1 487.9,121.8 Z" fill="#d9473c"/>
<circle cx="490.6" cy="124.5" r="1.35" fill="#f2c0b8" stroke="#d9473c" stroke-width="0.6"/>
<path d="M490.6,123.2 A1.35,1.35 0 0 1 490.6,125.8 Z" fill="#d9473c"/>
<circle cx="491.1" cy="127.7" r="1.35" fill="#f2c0b8" stroke="#d9473c" stroke-width="0.6"/>
<path d="M491.1,126.4 A1.35,1.35 0 0 1 491.1,129.1 Z" fill="#d9473c"/>
<circle cx="493.5" cy="131.0" r="1.35" fill="#f2c0b8" stroke="#d9473c" stroke-width="0.6"/>
<path d="M493.5,129.7 A1.35,1.35 0 0 1 493.5,132.3 Z" fill="#d9473c"/>
<circle cx="494.3" cy="134.2" r="1.35" fill="#f2c0b8" stroke="#d9473c" stroke-width="0.6"/>
<path d="M494.3,132.8 A1.35,1.35 0 0 1 494.3,135.5 Z" fill="#d9473c"/>
<circle cx="504.0" cy="137.4" r="1.35" fill="#f2c0b8" stroke="#d9473c" stroke-width="0.6"/>
<path d="M504.0,136.1 A1.35,1.35 0 0 1 504.0,138.8 Z" fill="#d9473c"/>
<circle cx="533.4" cy="141.0" r="1.35" fill="#f2c0b8" stroke="#d9473c" stroke-width="0.6"/>
<path d="M533.4,139.7 A1.35,1.35 0 0 1 533.4,142.3 Z" fill="#d9473c"/>
<path d="M458.1,48.6 L459.6,51.4 L456.7,51.4 Z" fill="#8da0e0" stroke="#3b55b5" stroke-width="0.6"/>
<path d="M458.8,50.8 L460.2,53.6 L457.4,53.6 Z" fill="#8da0e0" stroke="#3b55b5" stroke-width="0.6"/>
<path d="M459.3,53.0 L460.8,55.8 L457.9,55.8 Z" fill="#8da0e0" stroke="#3b55b5" stroke-width="0.6"/>
<path d="M459.6,55.2 L461.1,58.0 L458.2,58.0 Z" fill="#8da0e0" stroke="#3b55b5" stroke-width="0.6"/>
<path d="M460.3,57.3 L461.8,60.1 L458.9,60.1 Z" fill="#8da0e0" stroke="#3b55b5" stroke-width="0.6"/>
<path d="M464.7,59.5 L466.1,62.3 L463.2,62.3 Z" fill="#8da0e0" stroke="#3b55b5" stroke-width="0.6"/>
<path d="M465.4,62.5 L466.8,65.3 L463.9,65.3 Z" fill="#8da0e0" stroke="#3b55b5" stroke-width="0.6"/>
<path d="M468.3,65.4 L469.8,68.2 L466.9,68.2 Z" fill="#8da0e0" stroke="#3b55b5" stroke-width="0.6"/>
<path d="M469.0,67.5 L470.4,70.3 L467.6,70.3 Z" fill="#8da0e0" stroke="#3b55b5" stroke-width="0.6"/>
<path d="M471.2,71.9 L472.6,74.7 L469.8,74.7 Z" fill="#8da0e0" stroke="#3b55b5" stroke-width="0.6"/>
<path d="M472.0,74.8 L473.4,77.6 L470.6,77.6 Z" fill="#8da0e0" stroke="#3b55b5" stroke-width="0.6"/>
<path d="M472.7,77.8 L474.1,80.6 L471.2,80.6 Z" fill="#8da0e0" stroke="#3b55b5" stroke-width="0.6"/>
<path d="M473.4,80.7 L474.8,83.5 L471.9,83.5 Z" fill="#8da0e0" stroke="#3b55b5" stroke-width="0.6"/>
<path d="M474.2,83.6 L475.6,86.4 L472.8,86.4 Z" fill="#8da0e0" stroke="#3b55b5" stroke-width="0.6"/>
<path d="M475.0,86.5 L476.4,89.3 L473.6,89.3 Z" fill="#8da0e0" stroke="#3b55b5" stroke-width="0.6"/>
<path d="M475.6,89.5 L477.1,92.3 L474.2,92.3 Z" fill="#8da0e0" stroke="#3b55b5" stroke-width="0.6"/>
<path d="M476.3,92.3 L477.8,95.1 L474.9,95.1 Z" fill="#8da0e0" stroke="#3b55b5" stroke-width="0.6"/>
<path d="M478.5,96.0 L479.9,98.8 L477.1,98.8 Z" fill="#8da0e0" stroke="#3b55b5" stroke-width="0.6"/>
<path d="M479.9,99.7 L481.3,102.5 L478.4,102.5 Z" fill="#8da0e0" stroke="#3b55b5" stroke-width="0.6"/>
<path d="M480.7,102.9 L482.1,105.7 L479.2,105.7 Z" fill="#8da0e0" stroke="#3b55b5" stroke-width="0.6"/>
<path d="M482.3,105.0 L483.8,107.8 L480.9,107.8 Z" fill="#8da0e0" stroke="#3b55b5" stroke-width="0.6"/>
<path d="M486.3,108.5 L487.8,111.3 L484.9,111.3 Z" fill="#8da0e0" stroke="#3b55b5" stroke-width="0.6"/>
<path d="M490.6,112.6 L492.1,115.4 L489.2,115.4 Z" fill="#8da0e0" stroke="#3b55b5" stroke-width="0.6"/>
<path d="M491.1,115.8 L492.6,118.6 L489.7,118.6 Z" fill="#8da0e0" stroke="#3b55b5" stroke-width="0.6"/>
<path d="M491.6,119.0 L493.1,121.8 L490.2,121.8 Z" fill="#8da0e0" stroke="#3b55b5" stroke-width="0.6"/>
<path d="M491.9,122.2 L493.3,125.0 L490.4,125.0 Z" fill="#8da0e0" stroke="#3b55b5" stroke-width="0.6"/>
<path d="M496.0,126.2 L497.4,129.0 L494.6,129.0 Z" fill="#8da0e0" stroke="#3b55b5" stroke-width="0.6"/>
<path d="M502.9,129.5 L504.3,132.3 L501.4,132.3 Z" fill="#8da0e0" stroke="#3b55b5" stroke-width="0.6"/>
<path d="M506.1,132.7 L507.6,135.5 L504.7,135.5 Z" fill="#8da0e0" stroke="#3b55b5" stroke-width="0.6"/>
<path d="M510.4,135.9 L511.8,138.7 L508.9,138.7 Z" fill="#8da0e0" stroke="#3b55b5" stroke-width="0.6"/>
<path d="M513.6,139.5 L515.1,142.3 L512.1,142.3 Z" fill="#8da0e0" stroke="#3b55b5" stroke-width="0.6"/>
<path d="M588.2,57.8 L576.8,57.8 L576.8,54.599999999999994 L569.6,60.8 L576.8,67.0 L576.8,63.8 L588.2,63.8 Z" fill="#fff" stroke="#e08a55" stroke-width="1.0" />
<rect x="584.9000000000001" y="57.3" width="3.8" height="7.0" fill="#e07a3e" />
<path d="M571.3,113.95 L582.5,113.95 L582.5,110.65 L589.8,117.9 L582.5,125.15 L582.5,121.85000000000001 L571.3,121.85000000000001 Z" fill="#fff" stroke="#e08a55" stroke-width="1.0" />
<rect x="570.8" y="113.45" width="3.8" height="8.9" fill="#e07a3e" />
<text x="596.6" y="120.6" text-anchor="start" fill="#222" style="font-size:10.0px;" ><tspan font-style="italic">σ</tspan><tspan font-size="5.5" dy="1.5">0</tspan></text>
<text x="594.0" y="63.7" text-anchor="start" fill="#333" style="font-size:10.2px;" textLength="35.4" lengthAdjust="spacingAndGlyphs" ><tspan font-style="italic">P</tspan><tspan font-size="6.5" dy="2">s</tspan><tspan dy="-2">(</tspan><tspan font-style="italic">σ</tspan>)=exp</text>
<text x="0" y="0" text-anchor="start" fill="#333" style="font-size:10px;" transform="translate(630.6,69.6) scale(1.1,2.45)">[</text>
<text x="0" y="0" text-anchor="start" fill="#333" style="font-size:10px;" transform="translate(659.8,69.6) scale(1.1,2.45)">]</text>
<text x="634.0" y="63.0" text-anchor="start" fill="#333" style="font-size:8px;" >−</text>
<text x="0" y="0" text-anchor="start" fill="#333" style="font-size:10px;" transform="translate(637.6,68.6) scale(1.05,2.15)">(</text>
<text x="0" y="0" text-anchor="start" fill="#333" style="font-size:10px;" transform="translate(651.8,68.6) scale(1.05,2.15)">)</text>
<text x="645.6" y="59.0" text-anchor="middle" fill="#333" style="font-size:9.6px;" ><tspan font-style="italic">σ</tspan></text>
<line x1="642.0" y1="61.2" x2="650.3" y2="61.2" stroke="#333" stroke-width="0.6" />
<text x="646.0" y="69.6" text-anchor="middle" fill="#333" style="font-size:9.6px;" ><tspan font-style="italic">σ</tspan><tspan font-size="5.5" dy="1">0</tspan></text>
<text x="656.6" y="53.3" text-anchor="start" fill="#333" style="font-size:6px;" ><tspan font-style="italic">m</tspan></text>
<text x="475.5" y="183.8" text-anchor="start" fill="#222" style="font-size:8.3px;font-weight:bold;" textLength="136.8" lengthAdjust="spacingAndGlyphs" >Distribution of characteristic stress</text>
<text x="508.4" y="204.2" text-anchor="start" fill="#333" style="font-size:9.6px;" textLength="6.5" lengthAdjust="spacingAndGlyphs" >ln</text>
<text x="0" y="0" text-anchor="start" fill="#333" style="font-size:9.6px;" transform="translate(515.2,207.8) scale(1,2.0)">(</text>
<text x="518.6" y="204.2" text-anchor="start" fill="#333" style="font-size:9.6px;" textLength="6.2" lengthAdjust="spacingAndGlyphs" >ln</text>
<text x="530.2" y="199.8" text-anchor="middle" fill="#333" style="font-size:7.4px;" >1</text>
<line x1="526.3" y1="201.5" x2="534.3" y2="201.5" stroke="#333" stroke-width="0.55" />
<text x="526.4" y="208.8" text-anchor="start" fill="#333" style="font-size:7.6px;" ><tspan font-style="italic">P</tspan><tspan font-size="4.5" dy="1.4">s</tspan></text>
<text x="0" y="0" text-anchor="start" fill="#333" style="font-size:9.6px;" transform="translate(535.0,207.8) scale(1,2.0)">)</text>
<text x="538.6" y="204.2" text-anchor="start" fill="#333" style="font-size:9.6px;" textLength="14.0" lengthAdjust="spacingAndGlyphs" >=<tspan font-style="italic">m</tspan>ln</text>
<text x="0" y="0" text-anchor="start" fill="#333" style="font-size:9.6px;" transform="translate(552.7,207.8) scale(1,2.0)">(</text>
<text x="562.4" y="199.9" text-anchor="start" fill="#333" style="font-size:9.2px;" ><tspan font-style="italic">σ</tspan><tspan font-size="5" dy="1">f</tspan></text>
<line x1="561.5" y1="201.5" x2="572.5" y2="201.5" stroke="#333" stroke-width="0.55" />
<text x="562.4" y="208.9" text-anchor="start" fill="#333" style="font-size:9.2px;" ><tspan font-style="italic">σ</tspan><tspan font-size="5" dy="1">0</tspan></text>
<text x="0" y="0" text-anchor="start" fill="#333" style="font-size:9.6px;" transform="translate(573.2,207.8) scale(1,2.0)">)</text>
<path d="M481.2,195.0 C468.0,195.8 466.8,205.5 477.4,208.6" fill="none" stroke="#e3935f" stroke-width="2.6" stroke-linecap="butt"/>
<path d="M481.2,195.0 C468.0,195.8 466.8,205.5 477.4,208.6" fill="none" stroke="#fff" stroke-width="1.1" stroke-linecap="butt"/>
<path d="M475.6,206.0 L481.6,211.6 L476.0,212.4 Z" fill="#fff" stroke="#e3935f" stroke-width="0.6" />
<path d="M605.4,195.0 C618.6,195.8 619.8,205.5 609.2,208.6" fill="none" stroke="#e3935f" stroke-width="2.6" stroke-linecap="butt"/>
<path d="M605.4,195.0 C618.6,195.8 619.8,205.5 609.2,208.6" fill="none" stroke="#fff" stroke-width="1.1" stroke-linecap="butt"/>
<path d="M611.0,206.0 L605.0,211.6 L610.6,212.4 Z" fill="#fff" stroke="#e3935f" stroke-width="0.6" />
<rect x="431.5" y="235.6" width="111.0" height="91.7" fill="none" stroke="#8a8a8a" stroke-width="0.7"/>
<text x="429.1" y="250.40500000000003" text-anchor="end" fill="#555" style="font-size:6.0px;" >1.5</text>
<line x1="431.5" y1="248.40500000000003" x2="433.0" y2="248.40500000000003" stroke="#666" stroke-width="0.5" />
<text x="429.1" y="274.6" text-anchor="end" fill="#555" style="font-size:6.0px;" >0</text>
<line x1="431.5" y1="272.6" x2="433.0" y2="272.6" stroke="#666" stroke-width="0.5" />
<text x="429.1" y="298.795" text-anchor="end" fill="#555" style="font-size:6.0px;" >-1.5</text>
<line x1="431.5" y1="296.795" x2="433.0" y2="296.795" stroke="#666" stroke-width="0.5" />
<text x="429.1" y="322.99" text-anchor="end" fill="#555" style="font-size:6.0px;" >-3.0</text>
<line x1="431.5" y1="320.99" x2="433.0" y2="320.99" stroke="#666" stroke-width="0.5" />
<text x="440.0" y="334.2" text-anchor="middle" fill="#555" style="font-size:6.0px;" >-1.5</text>
<line x1="440.0" y1="327.3" x2="440.0" y2="325.8" stroke="#666" stroke-width="0.5" />
<text x="457.29999999999995" y="334.2" text-anchor="middle" fill="#555" style="font-size:6.0px;" >-1.0</text>
<line x1="457.29999999999995" y1="327.3" x2="457.29999999999995" y2="325.8" stroke="#666" stroke-width="0.5" />
<text x="474.59999999999997" y="334.2" text-anchor="middle" fill="#555" style="font-size:6.0px;" >-0.5</text>
<line x1="474.59999999999997" y1="327.3" x2="474.59999999999997" y2="325.8" stroke="#666" stroke-width="0.5" />
<text x="491.9" y="334.2" text-anchor="middle" fill="#555" style="font-size:6.0px;" >0</text>
<line x1="491.9" y1="327.3" x2="491.9" y2="325.8" stroke="#666" stroke-width="0.5" />
<text x="509.2" y="334.2" text-anchor="middle" fill="#555" style="font-size:6.0px;" >0.5</text>
<line x1="509.2" y1="327.3" x2="509.2" y2="325.8" stroke="#666" stroke-width="0.5" />
<text x="526.5" y="334.2" text-anchor="middle" fill="#555" style="font-size:6.0px;" >1.0</text>
<line x1="526.5" y1="327.3" x2="526.5" y2="325.8" stroke="#666" stroke-width="0.5" />
<text x="543.8" y="334.2" text-anchor="middle" fill="#555" style="font-size:6.0px;" >1.5</text>
<line x1="543.8" y1="327.3" x2="543.8" y2="325.8" stroke="#666" stroke-width="0.5" />
<text x="485.5" y="340.3" text-anchor="middle" fill="#555" style="font-size:5.2px;" >ln(<tspan font-style="italic">σ</tspan><tspan font-size="3.5" dy="0.8">f</tspan><tspan dy="-0.8">/</tspan><tspan font-style="italic">σ</tspan><tspan font-size="3.5" dy="0.8">0</tspan><tspan dy="-0.8">)</tspan></text>
<text x="0" y="0" text-anchor="middle" fill="#555" style="font-size:5.4px;" transform="translate(415.6,282.45) rotate(-90)">lnln(1/<tspan font-style="italic">P</tspan><tspan font-size="3.5" dy="0.8">s</tspan><tspan dy="-0.8">)</tspan></text>
<line x1="431.34999999999997" y1="320.18350000000004" x2="515.428" y2="249.21150000000003" stroke="#e0664f" stroke-width="0.7" />
<line x1="446.57399999999996" y1="312.4411" x2="513.698" y2="247.59850000000003" stroke="#111" stroke-width="0.7" />
<line x1="446.91999999999996" y1="327.442" x2="521.656" y2="242.11430000000001" stroke="#4a68c8" stroke-width="0.7" />
<circle cx="434.1" cy="314.7" r="1.25" fill="#f2c0b8" stroke="#d9473c" stroke-width="0.6"/>
<path d="M434.1,313.4 A1.25,1.25 0 0 1 434.1,315.9 Z" fill="#d9473c"/>
<circle cx="446.6" cy="307.6" r="1.25" fill="#f2c0b8" stroke="#d9473c" stroke-width="0.6"/>
<path d="M446.6,306.4 A1.25,1.25 0 0 1 446.6,308.9 Z" fill="#d9473c"/>
<circle cx="459.4" cy="296.3" r="1.25" fill="#f2c0b8" stroke="#d9473c" stroke-width="0.6"/>
<path d="M459.4,295.1 A1.25,1.25 0 0 1 459.4,297.6 Z" fill="#d9473c"/>
<circle cx="464.2" cy="290.0" r="1.25" fill="#f2c0b8" stroke="#d9473c" stroke-width="0.6"/>
<path d="M464.2,288.8 A1.25,1.25 0 0 1 464.2,291.3 Z" fill="#d9473c"/>
<circle cx="468.0" cy="286.8" r="1.25" fill="#f2c0b8" stroke="#d9473c" stroke-width="0.6"/>
<path d="M468.0,285.5 A1.25,1.25 0 0 1 468.0,288.0 Z" fill="#d9473c"/>
<circle cx="470.3" cy="285.4" r="1.25" fill="#f2c0b8" stroke="#d9473c" stroke-width="0.6"/>
<path d="M470.3,284.2 A1.25,1.25 0 0 1 470.3,286.7 Z" fill="#d9473c"/>
<circle cx="472.7" cy="283.8" r="1.25" fill="#f2c0b8" stroke="#d9473c" stroke-width="0.6"/>
<path d="M472.7,282.5 A1.25,1.25 0 0 1 472.7,285.0 Z" fill="#d9473c"/>
<circle cx="476.0" cy="282.2" r="1.25" fill="#f2c0b8" stroke="#d9473c" stroke-width="0.6"/>
<path d="M476.0,280.9 A1.25,1.25 0 0 1 476.0,283.4 Z" fill="#d9473c"/>
<circle cx="475.8" cy="280.7" r="1.25" fill="#f2c0b8" stroke="#d9473c" stroke-width="0.6"/>
<path d="M475.8,279.4 A1.25,1.25 0 0 1 475.8,281.9 Z" fill="#d9473c"/>
<circle cx="477.7" cy="279.2" r="1.25" fill="#f2c0b8" stroke="#d9473c" stroke-width="0.6"/>
<path d="M477.7,278.0 A1.25,1.25 0 0 1 477.7,280.5 Z" fill="#d9473c"/>
<circle cx="479.7" cy="277.8" r="1.25" fill="#f2c0b8" stroke="#d9473c" stroke-width="0.6"/>
<path d="M479.7,276.6 A1.25,1.25 0 0 1 479.7,279.1 Z" fill="#d9473c"/>
<circle cx="479.6" cy="276.4" r="1.25" fill="#f2c0b8" stroke="#d9473c" stroke-width="0.6"/>
<path d="M479.6,275.2 A1.25,1.25 0 0 1 479.6,277.7 Z" fill="#d9473c"/>
<circle cx="482.5" cy="275.1" r="1.25" fill="#f2c0b8" stroke="#d9473c" stroke-width="0.6"/>
<path d="M482.5,273.8 A1.25,1.25 0 0 1 482.5,276.3 Z" fill="#d9473c"/>
<circle cx="484.6" cy="273.7" r="1.25" fill="#f2c0b8" stroke="#d9473c" stroke-width="0.6"/>
<path d="M484.6,272.5 A1.25,1.25 0 0 1 484.6,275.0 Z" fill="#d9473c"/>
<circle cx="486.8" cy="272.4" r="1.25" fill="#f2c0b8" stroke="#d9473c" stroke-width="0.6"/>
<path d="M486.8,271.2 A1.25,1.25 0 0 1 486.8,273.7 Z" fill="#d9473c"/>
<circle cx="485.4" cy="271.1" r="1.25" fill="#f2c0b8" stroke="#d9473c" stroke-width="0.6"/>
<path d="M485.4,269.8 A1.25,1.25 0 0 1 485.4,272.3 Z" fill="#d9473c"/>
<circle cx="487.9" cy="269.7" r="1.25" fill="#f2c0b8" stroke="#d9473c" stroke-width="0.6"/>
<path d="M487.9,268.5 A1.25,1.25 0 0 1 487.9,271.0 Z" fill="#d9473c"/>
<circle cx="488.6" cy="268.4" r="1.25" fill="#f2c0b8" stroke="#d9473c" stroke-width="0.6"/>
<path d="M488.6,267.1 A1.25,1.25 0 0 1 488.6,269.6 Z" fill="#d9473c"/>
<circle cx="493.2" cy="267.0" r="1.25" fill="#f2c0b8" stroke="#d9473c" stroke-width="0.6"/>
<path d="M493.2,265.7 A1.25,1.25 0 0 1 493.2,268.2 Z" fill="#d9473c"/>
<circle cx="494.4" cy="265.5" r="1.25" fill="#f2c0b8" stroke="#d9473c" stroke-width="0.6"/>
<path d="M494.4,264.3 A1.25,1.25 0 0 1 494.4,266.8 Z" fill="#d9473c"/>
<circle cx="493.4" cy="264.0" r="1.25" fill="#f2c0b8" stroke="#d9473c" stroke-width="0.6"/>
<path d="M493.4,262.7 A1.25,1.25 0 0 1 493.4,265.2 Z" fill="#d9473c"/>
<circle cx="499.2" cy="262.4" r="1.25" fill="#f2c0b8" stroke="#d9473c" stroke-width="0.6"/>
<path d="M499.2,261.1 A1.25,1.25 0 0 1 499.2,263.6 Z" fill="#d9473c"/>
<circle cx="501.3" cy="260.6" r="1.25" fill="#f2c0b8" stroke="#d9473c" stroke-width="0.6"/>
<path d="M501.3,259.3 A1.25,1.25 0 0 1 501.3,261.8 Z" fill="#d9473c"/>
<circle cx="502.4" cy="258.5" r="1.25" fill="#f2c0b8" stroke="#d9473c" stroke-width="0.6"/>
<path d="M502.4,257.2 A1.25,1.25 0 0 1 502.4,259.7 Z" fill="#d9473c"/>
<circle cx="505.1" cy="256.0" r="1.25" fill="#f2c0b8" stroke="#d9473c" stroke-width="0.6"/>
<path d="M505.1,254.7 A1.25,1.25 0 0 1 505.1,257.2 Z" fill="#d9473c"/>
<circle cx="507.3" cy="252.4" r="1.25" fill="#f2c0b8" stroke="#d9473c" stroke-width="0.6"/>
<path d="M507.3,251.2 A1.25,1.25 0 0 1 507.3,253.7 Z" fill="#d9473c"/>
<rect x="444.7" y="324.5" width="2.4" height="2.4" fill="#111"/>
<rect x="445.4" y="312.5" width="2.4" height="2.4" fill="#111"/>
<rect x="457.5" y="300.6" width="2.4" height="2.4" fill="#111"/>
<rect x="460.6" y="291.1" width="2.4" height="2.4" fill="#111"/>
<rect x="468.9" y="287.8" width="2.4" height="2.4" fill="#111"/>
<rect x="471.5" y="286.0" width="2.4" height="2.4" fill="#111"/>
<rect x="473.4" y="284.2" width="2.4" height="2.4" fill="#111"/>
<rect x="472.9" y="282.6" width="2.4" height="2.4" fill="#111"/>
<rect x="473.9" y="281.0" width="2.4" height="2.4" fill="#111"/>
<rect x="477.0" y="279.5" width="2.4" height="2.4" fill="#111"/>
<rect x="478.1" y="278.0" width="2.4" height="2.4" fill="#111"/>
<rect x="481.7" y="276.6" width="2.4" height="2.4" fill="#111"/>
<rect x="482.6" y="275.2" width="2.4" height="2.4" fill="#111"/>
<rect x="483.6" y="273.9" width="2.4" height="2.4" fill="#111"/>
<rect x="484.8" y="272.5" width="2.4" height="2.4" fill="#111"/>
<rect x="486.6" y="271.2" width="2.4" height="2.4" fill="#111"/>
<rect x="485.8" y="269.9" width="2.4" height="2.4" fill="#111"/>
<rect x="488.4" y="268.5" width="2.4" height="2.4" fill="#111"/>
<rect x="488.7" y="267.2" width="2.4" height="2.4" fill="#111"/>
<rect x="493.2" y="265.8" width="2.4" height="2.4" fill="#111"/>
<rect x="491.2" y="264.3" width="2.4" height="2.4" fill="#111"/>
<rect x="495.9" y="262.8" width="2.4" height="2.4" fill="#111"/>
<rect x="494.5" y="261.2" width="2.4" height="2.4" fill="#111"/>
<rect x="498.8" y="259.4" width="2.4" height="2.4" fill="#111"/>
<rect x="499.5" y="257.3" width="2.4" height="2.4" fill="#111"/>
<rect x="502.3" y="254.8" width="2.4" height="2.4" fill="#111"/>
<rect x="507.8" y="251.2" width="2.4" height="2.4" fill="#111"/>
<path d="M467.3,313.3 L468.7,315.9 L466.0,315.9 Z" fill="#8da0e0" stroke="#3b55b5" stroke-width="0.6"/>
<path d="M470.4,307.0 L471.8,309.6 L469.1,309.6 Z" fill="#8da0e0" stroke="#3b55b5" stroke-width="0.6"/>
<path d="M470.4,301.4 L471.8,303.9 L469.1,303.9 Z" fill="#8da0e0" stroke="#3b55b5" stroke-width="0.6"/>
<path d="M472.2,296.5 L473.5,299.1 L470.8,299.1 Z" fill="#8da0e0" stroke="#3b55b5" stroke-width="0.6"/>
<path d="M473.2,294.4 L474.5,296.9 L471.8,296.9 Z" fill="#8da0e0" stroke="#3b55b5" stroke-width="0.6"/>
<path d="M477.4,291.9 L478.7,294.4 L476.0,294.4 Z" fill="#8da0e0" stroke="#3b55b5" stroke-width="0.6"/>
<path d="M479.3,289.7 L480.7,292.2 L478.0,292.2 Z" fill="#8da0e0" stroke="#3b55b5" stroke-width="0.6"/>
<path d="M481.9,287.7 L483.3,290.2 L480.6,290.2 Z" fill="#8da0e0" stroke="#3b55b5" stroke-width="0.6"/>
<path d="M480.4,285.8 L481.7,288.3 L479.0,288.3 Z" fill="#8da0e0" stroke="#3b55b5" stroke-width="0.6"/>
<path d="M482.1,284.0 L483.5,286.6 L480.8,286.6 Z" fill="#8da0e0" stroke="#3b55b5" stroke-width="0.6"/>
<path d="M483.2,282.4 L484.5,284.9 L481.8,284.9 Z" fill="#8da0e0" stroke="#3b55b5" stroke-width="0.6"/>
<path d="M485.0,280.8 L486.3,283.4 L483.6,283.4 Z" fill="#8da0e0" stroke="#3b55b5" stroke-width="0.6"/>
<path d="M488.8,279.3 L490.1,281.9 L487.4,281.9 Z" fill="#8da0e0" stroke="#3b55b5" stroke-width="0.6"/>
<path d="M487.1,277.8 L488.5,280.4 L485.8,280.4 Z" fill="#8da0e0" stroke="#3b55b5" stroke-width="0.6"/>
<path d="M490.3,276.4 L491.6,279.0 L488.9,279.0 Z" fill="#8da0e0" stroke="#3b55b5" stroke-width="0.6"/>
<path d="M490.0,275.1 L491.3,277.6 L488.6,277.6 Z" fill="#8da0e0" stroke="#3b55b5" stroke-width="0.6"/>
<path d="M491.6,273.7 L492.9,276.3 L490.2,276.3 Z" fill="#8da0e0" stroke="#3b55b5" stroke-width="0.6"/>
<path d="M493.4,272.4 L494.8,274.9 L492.1,274.9 Z" fill="#8da0e0" stroke="#3b55b5" stroke-width="0.6"/>
<path d="M496.5,271.0 L497.9,273.6 L495.2,273.6 Z" fill="#8da0e0" stroke="#3b55b5" stroke-width="0.6"/>
<path d="M496.6,269.7 L498.0,272.3 L495.3,272.3 Z" fill="#8da0e0" stroke="#3b55b5" stroke-width="0.6"/>
<path d="M494.9,268.4 L496.3,270.9 L493.6,270.9 Z" fill="#8da0e0" stroke="#3b55b5" stroke-width="0.6"/>
<path d="M497.4,267.0 L498.7,269.6 L496.0,269.6 Z" fill="#8da0e0" stroke="#3b55b5" stroke-width="0.6"/>
<path d="M498.0,265.6 L499.3,268.2 L496.6,268.2 Z" fill="#8da0e0" stroke="#3b55b5" stroke-width="0.6"/>
<path d="M502.8,264.2 L504.1,266.7 L501.4,266.7 Z" fill="#8da0e0" stroke="#3b55b5" stroke-width="0.6"/>
<path d="M503.8,262.6 L505.2,265.2 L502.5,265.2 Z" fill="#8da0e0" stroke="#3b55b5" stroke-width="0.6"/>
<path d="M505.3,261.0 L506.6,263.5 L503.9,263.5 Z" fill="#8da0e0" stroke="#3b55b5" stroke-width="0.6"/>
<path d="M507.0,259.2 L508.3,261.7 L505.6,261.7 Z" fill="#8da0e0" stroke="#3b55b5" stroke-width="0.6"/>
<path d="M508.4,257.1 L509.7,259.7 L507.0,259.7 Z" fill="#8da0e0" stroke="#3b55b5" stroke-width="0.6"/>
<path d="M511.6,254.6 L513.0,257.1 L510.3,257.1 Z" fill="#8da0e0" stroke="#3b55b5" stroke-width="0.6"/>
<path d="M514.0,251.0 L515.3,253.6 L512.6,253.6 Z" fill="#8da0e0" stroke="#3b55b5" stroke-width="0.6"/>
<rect x="441.0" y="242.3" width="2.2" height="2.2" fill="#111"/>
<text x="445.5" y="245.4" text-anchor="start" fill="#444" style="font-size:5.8px;" textLength="34.4" lengthAdjust="spacingAndGlyphs" ><tspan font-style="italic">V</tspan>=0.1 mm/min</text>
<circle cx="442.1" cy="249.0" r="1.15" fill="#f2c0b8" stroke="#d9473c" stroke-width="0.6"/>
<path d="M442.1,247.8 A1.15,1.15 0 0 1 442.1,250.2 Z" fill="#d9473c"/>
<text x="445.5" y="251.0" text-anchor="start" fill="#444" style="font-size:5.8px;" textLength="30.0" lengthAdjust="spacingAndGlyphs" ><tspan font-style="italic">V</tspan>=1 mm/min</text>
<path d="M442.1,253.3 L443.3,255.5 L440.9,255.5 Z" fill="#8da0e0" stroke="#3b55b5" stroke-width="0.6"/>
<text x="445.5" y="256.5" text-anchor="start" fill="#444" style="font-size:5.8px;" textLength="30.0" lengthAdjust="spacingAndGlyphs" ><tspan font-style="italic">V</tspan>=5 mm/min</text>
<text x="486.6" y="245.2" text-anchor="start" fill="#333" style="font-size:5.8px;" textLength="17.3" lengthAdjust="spacingAndGlyphs" ><tspan font-style="italic">m</tspan>=2.03</text>
<text x="486.6" y="250.6" text-anchor="start" fill="#333" style="font-size:5.8px;" textLength="21.9" lengthAdjust="spacingAndGlyphs" ><tspan font-style="italic">R</tspan><tspan font-size="3.5" dy="-2">2</tspan><tspan dy="2">=0.963</tspan></text>
<text x="436.1" y="287.2" text-anchor="start" fill="#d9604f" style="font-size:5.8px;" textLength="16.8" lengthAdjust="spacingAndGlyphs" ><tspan font-style="italic">m</tspan>=1.76</text>
<text x="436.1" y="292.8" text-anchor="start" fill="#d9604f" style="font-size:5.8px;" textLength="21.4" lengthAdjust="spacingAndGlyphs" ><tspan font-style="italic">R</tspan><tspan font-size="3.5" dy="-2">2</tspan><tspan dy="2">=0.978</tspan></text>
<text x="491.0" y="285.2" text-anchor="start" fill="#3b4fae" style="font-size:6.8px;" textLength="16.7" lengthAdjust="spacingAndGlyphs" ><tspan font-style="italic">m</tspan>=2.43</text>
<text x="491.0" y="291.2" text-anchor="start" fill="#3b4fae" style="font-size:6.8px;" textLength="20.4" lengthAdjust="spacingAndGlyphs" ><tspan font-style="italic">R</tspan><tspan font-size="4" dy="-2.3">2</tspan><tspan dy="2.3">=0.933</tspan></text>
<rect x="566.5" y="235.4" width="111.3" height="92.0" fill="none" stroke="#8a8a8a" stroke-width="0.7"/>
<text x="564.1" y="249.005" text-anchor="end" fill="#555" style="font-size:6.0px;" >1.5</text>
<line x1="566.5" y1="247.005" x2="568.0" y2="247.005" stroke="#666" stroke-width="0.5" />
<text x="564.1" y="273.2" text-anchor="end" fill="#555" style="font-size:6.0px;" >0</text>
<line x1="566.5" y1="271.2" x2="568.0" y2="271.2" stroke="#666" stroke-width="0.5" />
<text x="564.1" y="297.395" text-anchor="end" fill="#555" style="font-size:6.0px;" >-1.5</text>
<line x1="566.5" y1="295.395" x2="568.0" y2="295.395" stroke="#666" stroke-width="0.5" />
<text x="564.1" y="321.59" text-anchor="end" fill="#555" style="font-size:6.0px;" >-3.0</text>
<line x1="566.5" y1="319.59" x2="568.0" y2="319.59" stroke="#666" stroke-width="0.5" />
<text x="567.8" y="334.2" text-anchor="middle" fill="#555" style="font-size:6.0px;" >-1.5</text>
<line x1="567.8" y1="327.4" x2="567.8" y2="325.9" stroke="#666" stroke-width="0.5" />
<text x="587.8" y="334.2" text-anchor="middle" fill="#555" style="font-size:6.0px;" >-1.0</text>
<line x1="587.8" y1="327.4" x2="587.8" y2="325.9" stroke="#666" stroke-width="0.5" />
<text x="607.8" y="334.2" text-anchor="middle" fill="#555" style="font-size:6.0px;" >-0.5</text>
<line x1="607.8" y1="327.4" x2="607.8" y2="325.9" stroke="#666" stroke-width="0.5" />
<text x="627.8" y="334.2" text-anchor="middle" fill="#555" style="font-size:6.0px;" >0</text>
<line x1="627.8" y1="327.4" x2="627.8" y2="325.9" stroke="#666" stroke-width="0.5" />
<text x="647.8" y="334.2" text-anchor="middle" fill="#555" style="font-size:6.0px;" >0.5</text>
<line x1="647.8" y1="327.4" x2="647.8" y2="325.9" stroke="#666" stroke-width="0.5" />
<text x="667.8" y="334.2" text-anchor="middle" fill="#555" style="font-size:6.0px;" >1.0</text>
<line x1="667.8" y1="327.4" x2="667.8" y2="325.9" stroke="#666" stroke-width="0.5" />
<text x="620.65" y="340.3" text-anchor="middle" fill="#555" style="font-size:5.2px;" >ln(<tspan font-style="italic">σ</tspan><tspan font-size="3.5" dy="0.8">f</tspan><tspan dy="-0.8">/</tspan><tspan font-style="italic">σ</tspan><tspan font-size="3.5" dy="0.8">0</tspan><tspan dy="-0.8">)</tspan></text>
<text x="0" y="0" text-anchor="middle" fill="#555" style="font-size:5.4px;" transform="translate(552.8,282.4) rotate(-90)">lnln(1/<tspan font-style="italic">P</tspan><tspan font-size="3.5" dy="0.8">s</tspan><tspan dy="-0.8">)</tspan></text>
<line x1="572.5999999999999" y1="316.8479" x2="668.5999999999999" y2="241.0369" stroke="#e0664f" stroke-width="0.7" />
<line x1="581.8" y1="321.84819999999996" x2="653.4" y2="244.42419999999998" stroke="#111" stroke-width="0.7" />
<line x1="580.5999999999999" y1="314.751" x2="652.5999999999999" y2="249.9084" stroke="#4a68c8" stroke-width="0.7" />
<circle cx="573.0" cy="324.9" r="1.25" fill="#f2c0b8" stroke="#d9473c" stroke-width="0.6"/>
<path d="M573.0,323.7 A1.25,1.25 0 0 1 573.0,326.2 Z" fill="#d9473c"/>
<circle cx="588.2" cy="301.8" r="1.25" fill="#f2c0b8" stroke="#d9473c" stroke-width="0.6"/>
<path d="M588.2,300.6 A1.25,1.25 0 0 1 588.2,303.1 Z" fill="#d9473c"/>
<circle cx="592.6" cy="298.6" r="1.25" fill="#f2c0b8" stroke="#d9473c" stroke-width="0.6"/>
<path d="M592.6,297.4 A1.25,1.25 0 0 1 592.6,299.9 Z" fill="#d9473c"/>
<circle cx="601.4" cy="293.1" r="1.25" fill="#f2c0b8" stroke="#d9473c" stroke-width="0.6"/>
<path d="M601.4,291.9 A1.25,1.25 0 0 1 601.4,294.4 Z" fill="#d9473c"/>
<circle cx="602.8" cy="289.7" r="1.25" fill="#f2c0b8" stroke="#d9473c" stroke-width="0.6"/>
<path d="M602.8,288.4 A1.25,1.25 0 0 1 602.8,290.9 Z" fill="#d9473c"/>
<circle cx="607.9" cy="287.6" r="1.25" fill="#f2c0b8" stroke="#d9473c" stroke-width="0.6"/>
<path d="M607.9,286.4 A1.25,1.25 0 0 1 607.9,288.9 Z" fill="#d9473c"/>
<circle cx="610.0" cy="285.8" r="1.25" fill="#f2c0b8" stroke="#d9473c" stroke-width="0.6"/>
<path d="M610.0,284.5 A1.25,1.25 0 0 1 610.0,287.0 Z" fill="#d9473c"/>
<circle cx="611.5" cy="284.0" r="1.25" fill="#f2c0b8" stroke="#d9473c" stroke-width="0.6"/>
<path d="M611.5,282.8 A1.25,1.25 0 0 1 611.5,285.3 Z" fill="#d9473c"/>
<circle cx="612.3" cy="282.4" r="1.25" fill="#f2c0b8" stroke="#d9473c" stroke-width="0.6"/>
<path d="M612.3,281.1 A1.25,1.25 0 0 1 612.3,283.6 Z" fill="#d9473c"/>
<circle cx="617.1" cy="280.8" r="1.25" fill="#f2c0b8" stroke="#d9473c" stroke-width="0.6"/>
<path d="M617.1,279.5 A1.25,1.25 0 0 1 617.1,282.0 Z" fill="#d9473c"/>
<circle cx="619.1" cy="279.3" r="1.25" fill="#f2c0b8" stroke="#d9473c" stroke-width="0.6"/>
<path d="M619.1,278.0 A1.25,1.25 0 0 1 619.1,280.5 Z" fill="#d9473c"/>
<circle cx="619.5" cy="277.8" r="1.25" fill="#f2c0b8" stroke="#d9473c" stroke-width="0.6"/>
<path d="M619.5,276.6 A1.25,1.25 0 0 1 619.5,279.1 Z" fill="#d9473c"/>
<circle cx="621.2" cy="276.4" r="1.25" fill="#f2c0b8" stroke="#d9473c" stroke-width="0.6"/>
<path d="M621.2,275.2 A1.25,1.25 0 0 1 621.2,277.7 Z" fill="#d9473c"/>
<circle cx="621.7" cy="275.0" r="1.25" fill="#f2c0b8" stroke="#d9473c" stroke-width="0.6"/>
<path d="M621.7,273.8 A1.25,1.25 0 0 1 621.7,276.3 Z" fill="#d9473c"/>
<circle cx="622.3" cy="273.7" r="1.25" fill="#f2c0b8" stroke="#d9473c" stroke-width="0.6"/>
<path d="M622.3,272.4 A1.25,1.25 0 0 1 622.3,274.9 Z" fill="#d9473c"/>
<circle cx="625.7" cy="272.3" r="1.25" fill="#f2c0b8" stroke="#d9473c" stroke-width="0.6"/>
<path d="M625.7,271.1 A1.25,1.25 0 0 1 625.7,273.6 Z" fill="#d9473c"/>
<circle cx="628.4" cy="271.0" r="1.25" fill="#f2c0b8" stroke="#d9473c" stroke-width="0.6"/>
<path d="M628.4,269.8 A1.25,1.25 0 0 1 628.4,272.3 Z" fill="#d9473c"/>
<circle cx="627.7" cy="269.7" r="1.25" fill="#f2c0b8" stroke="#d9473c" stroke-width="0.6"/>
<path d="M627.7,268.4 A1.25,1.25 0 0 1 627.7,270.9 Z" fill="#d9473c"/>
<circle cx="632.8" cy="268.3" r="1.25" fill="#f2c0b8" stroke="#d9473c" stroke-width="0.6"/>
<path d="M632.8,267.1 A1.25,1.25 0 0 1 632.8,269.6 Z" fill="#d9473c"/>
<circle cx="631.9" cy="267.0" r="1.25" fill="#f2c0b8" stroke="#d9473c" stroke-width="0.6"/>
<path d="M631.9,265.7 A1.25,1.25 0 0 1 631.9,268.2 Z" fill="#d9473c"/>
<circle cx="633.6" cy="265.6" r="1.25" fill="#f2c0b8" stroke="#d9473c" stroke-width="0.6"/>
<path d="M633.6,264.3 A1.25,1.25 0 0 1 633.6,266.8 Z" fill="#d9473c"/>
<circle cx="634.6" cy="264.1" r="1.25" fill="#f2c0b8" stroke="#d9473c" stroke-width="0.6"/>
<path d="M634.6,262.9 A1.25,1.25 0 0 1 634.6,265.4 Z" fill="#d9473c"/>
<circle cx="641.1" cy="262.6" r="1.25" fill="#f2c0b8" stroke="#d9473c" stroke-width="0.6"/>
<path d="M641.1,261.3 A1.25,1.25 0 0 1 641.1,263.8 Z" fill="#d9473c"/>
<circle cx="641.9" cy="261.0" r="1.25" fill="#f2c0b8" stroke="#d9473c" stroke-width="0.6"/>
<path d="M641.9,259.7 A1.25,1.25 0 0 1 641.9,262.2 Z" fill="#d9473c"/>
<circle cx="644.8" cy="259.2" r="1.25" fill="#f2c0b8" stroke="#d9473c" stroke-width="0.6"/>
<path d="M644.8,257.9 A1.25,1.25 0 0 1 644.8,260.4 Z" fill="#d9473c"/>
<circle cx="646.2" cy="257.1" r="1.25" fill="#f2c0b8" stroke="#d9473c" stroke-width="0.6"/>
<path d="M646.2,255.8 A1.25,1.25 0 0 1 646.2,258.3 Z" fill="#d9473c"/>
<circle cx="646.6" cy="254.6" r="1.25" fill="#f2c0b8" stroke="#d9473c" stroke-width="0.6"/>
<path d="M646.6,253.3 A1.25,1.25 0 0 1 646.6,255.8 Z" fill="#d9473c"/>
<circle cx="652.5" cy="251.0" r="1.25" fill="#f2c0b8" stroke="#d9473c" stroke-width="0.6"/>
<path d="M652.5,249.8 A1.25,1.25 0 0 1 652.5,252.3 Z" fill="#d9473c"/>
<path d="M584.2,311.6 L585.5,314.2 L582.8,314.2 Z" fill="#8da0e0" stroke="#3b55b5" stroke-width="0.6"/>
<path d="M585.0,306.1 L586.4,308.7 L583.6,308.7 Z" fill="#8da0e0" stroke="#3b55b5" stroke-width="0.6"/>
<path d="M598.2,297.2 L599.5,299.8 L596.8,299.8 Z" fill="#8da0e0" stroke="#3b55b5" stroke-width="0.6"/>
<path d="M606.1,293.0 L607.4,295.5 L604.7,295.5 Z" fill="#8da0e0" stroke="#3b55b5" stroke-width="0.6"/>
<path d="M604.9,290.5 L606.2,293.0 L603.5,293.0 Z" fill="#8da0e0" stroke="#3b55b5" stroke-width="0.6"/>
<path d="M606.8,288.3 L608.1,290.8 L605.4,290.8 Z" fill="#8da0e0" stroke="#3b55b5" stroke-width="0.6"/>
<path d="M613.7,286.3 L615.1,288.8 L612.4,288.8 Z" fill="#8da0e0" stroke="#3b55b5" stroke-width="0.6"/>
<path d="M611.9,284.4 L613.2,286.9 L610.5,286.9 Z" fill="#8da0e0" stroke="#3b55b5" stroke-width="0.6"/>
<path d="M613.5,282.6 L614.9,285.2 L612.2,285.2 Z" fill="#8da0e0" stroke="#3b55b5" stroke-width="0.6"/>
<path d="M617.9,281.0 L619.3,283.5 L616.6,283.5 Z" fill="#8da0e0" stroke="#3b55b5" stroke-width="0.6"/>
<path d="M618.2,279.4 L619.5,282.0 L616.8,282.0 Z" fill="#8da0e0" stroke="#3b55b5" stroke-width="0.6"/>
<path d="M622.5,277.9 L623.8,280.5 L621.1,280.5 Z" fill="#8da0e0" stroke="#3b55b5" stroke-width="0.6"/>
<path d="M620.9,276.4 L622.3,279.0 L619.6,279.0 Z" fill="#8da0e0" stroke="#3b55b5" stroke-width="0.6"/>
<path d="M626.0,275.0 L627.4,277.6 L624.7,277.6 Z" fill="#8da0e0" stroke="#3b55b5" stroke-width="0.6"/>
<path d="M624.5,273.7 L625.8,276.2 L623.1,276.2 Z" fill="#8da0e0" stroke="#3b55b5" stroke-width="0.6"/>
<path d="M627.3,272.3 L628.7,274.9 L626.0,274.9 Z" fill="#8da0e0" stroke="#3b55b5" stroke-width="0.6"/>
<path d="M630.4,271.0 L631.7,273.5 L629.0,273.5 Z" fill="#8da0e0" stroke="#3b55b5" stroke-width="0.6"/>
<path d="M630.7,269.6 L632.0,272.2 L629.3,272.2 Z" fill="#8da0e0" stroke="#3b55b5" stroke-width="0.6"/>
<path d="M633.3,268.3 L634.7,270.9 L632.0,270.9 Z" fill="#8da0e0" stroke="#3b55b5" stroke-width="0.6"/>
<path d="M633.8,267.0 L635.1,269.5 L632.4,269.5 Z" fill="#8da0e0" stroke="#3b55b5" stroke-width="0.6"/>
<path d="M632.1,265.6 L633.5,268.2 L630.8,268.2 Z" fill="#8da0e0" stroke="#3b55b5" stroke-width="0.6"/>
<path d="M637.7,264.2 L639.0,266.8 L636.3,266.8 Z" fill="#8da0e0" stroke="#3b55b5" stroke-width="0.6"/>
<path d="M637.9,262.8 L639.2,265.3 L636.5,265.3 Z" fill="#8da0e0" stroke="#3b55b5" stroke-width="0.6"/>
<path d="M638.3,261.2 L639.6,263.8 L636.9,263.8 Z" fill="#8da0e0" stroke="#3b55b5" stroke-width="0.6"/>
<path d="M639.5,259.6 L640.8,262.1 L638.1,262.1 Z" fill="#8da0e0" stroke="#3b55b5" stroke-width="0.6"/>
<path d="M644.7,257.8 L646.0,260.3 L643.3,260.3 Z" fill="#8da0e0" stroke="#3b55b5" stroke-width="0.6"/>
<path d="M645.7,255.7 L647.0,258.3 L644.3,258.3 Z" fill="#8da0e0" stroke="#3b55b5" stroke-width="0.6"/>
<path d="M650.2,253.2 L651.5,255.7 L648.8,255.7 Z" fill="#8da0e0" stroke="#3b55b5" stroke-width="0.6"/>
<path d="M653.4,249.6 L654.7,252.2 L652.0,252.2 Z" fill="#8da0e0" stroke="#3b55b5" stroke-width="0.6"/>
<rect x="580.6" y="324.5" width="2.4" height="2.4" fill="#111"/>
<rect x="589.8" y="312.4" width="2.4" height="2.4" fill="#111"/>
<rect x="595.4" y="306.3" width="2.4" height="2.4" fill="#111"/>
<rect x="602.1" y="299.1" width="2.4" height="2.4" fill="#111"/>
<rect x="605.2" y="295.9" width="2.4" height="2.4" fill="#111"/>
<rect x="607.5" y="293.1" width="2.4" height="2.4" fill="#111"/>
<rect x="606.6" y="290.7" width="2.4" height="2.4" fill="#111"/>
<rect x="610.6" y="288.5" width="2.4" height="2.4" fill="#111"/>
<rect x="611.8" y="286.4" width="2.4" height="2.4" fill="#111"/>
<rect x="614.0" y="284.6" width="2.4" height="2.4" fill="#111"/>
<rect x="614.0" y="282.8" width="2.4" height="2.4" fill="#111"/>
<rect x="615.8" y="281.2" width="2.4" height="2.4" fill="#111"/>
<rect x="618.3" y="279.6" width="2.4" height="2.4" fill="#111"/>
<rect x="618.8" y="278.1" width="2.4" height="2.4" fill="#111"/>
<rect x="621.0" y="276.6" width="2.4" height="2.4" fill="#111"/>
<rect x="620.6" y="275.2" width="2.4" height="2.4" fill="#111"/>
<rect x="622.1" y="273.8" width="2.4" height="2.4" fill="#111"/>
<rect x="625.9" y="272.5" width="2.4" height="2.4" fill="#111"/>
<rect x="626.0" y="271.1" width="2.4" height="2.4" fill="#111"/>
<rect x="627.6" y="269.8" width="2.4" height="2.4" fill="#111"/>
<rect x="629.7" y="268.5" width="2.4" height="2.4" fill="#111"/>
<rect x="629.4" y="267.1" width="2.4" height="2.4" fill="#111"/>
<rect x="629.5" y="265.8" width="2.4" height="2.4" fill="#111"/>
<rect x="633.7" y="264.4" width="2.4" height="2.4" fill="#111"/>
<rect x="634.2" y="262.9" width="2.4" height="2.4" fill="#111"/>
<rect x="635.9" y="261.4" width="2.4" height="2.4" fill="#111"/>
<rect x="637.3" y="259.8" width="2.4" height="2.4" fill="#111"/>
<rect x="640.4" y="258.0" width="2.4" height="2.4" fill="#111"/>
<rect x="639.9" y="255.9" width="2.4" height="2.4" fill="#111"/>
<rect x="643.8" y="253.4" width="2.4" height="2.4" fill="#111"/>
<rect x="645.5" y="249.8" width="2.4" height="2.4" fill="#111"/>
<rect x="584.2" y="240.8" width="2.2" height="2.2" fill="#111"/>
<text x="588.6999999999999" y="243.9" text-anchor="start" fill="#444" style="font-size:5.8px;" textLength="36.3" lengthAdjust="spacingAndGlyphs" >Irregular sphere</text>
<circle cx="585.3" cy="247.6" r="1.15" fill="#f2c0b8" stroke="#d9473c" stroke-width="0.6"/>
<path d="M585.3,246.4 A1.15,1.15 0 0 1 585.3,248.8 Z" fill="#d9473c"/>
<text x="588.6999999999999" y="249.6" text-anchor="start" fill="#444" style="font-size:5.8px;" textLength="23.3" lengthAdjust="spacingAndGlyphs" >Elongated</text>
<path d="M585.3,252.5 L586.5,254.7 L584.1,254.7 Z" fill="#8da0e0" stroke="#3b55b5" stroke-width="0.6"/>
<text x="588.6999999999999" y="255.7" text-anchor="start" fill="#444" style="font-size:5.8px;" textLength="11.8" lengthAdjust="spacingAndGlyphs" >Flaky</text>
<text x="600.3" y="266.4" text-anchor="start" fill="#333" style="font-size:6.0px;" textLength="14.9" lengthAdjust="spacingAndGlyphs" ><tspan font-style="italic">m</tspan>=2.7</text>
<text x="600.3" y="272.6" text-anchor="start" fill="#333" style="font-size:6.0px;" textLength="21.5" lengthAdjust="spacingAndGlyphs" ><tspan font-style="italic">R</tspan><tspan font-size="4" dy="-2.2">2</tspan><tspan dy="2.2">=0.982</tspan></text>
<text x="654.0" y="261.0" text-anchor="start" fill="#d9604f" style="font-size:6.0px;" textLength="10.0" lengthAdjust="spacingAndGlyphs" ><tspan font-style="italic">m</tspan>=2</text>
<text x="654.0" y="266.4" text-anchor="start" fill="#d9604f" style="font-size:6.0px;" textLength="21.4" lengthAdjust="spacingAndGlyphs" ><tspan font-style="italic">R</tspan><tspan font-size="4" dy="-2.2">2</tspan><tspan dy="2.2">=0.963</tspan></text>
<text x="599.8" y="310.5" text-anchor="start" fill="#3b4fae" style="font-size:6.8px;" textLength="17.1" lengthAdjust="spacingAndGlyphs" ><tspan font-style="italic">m</tspan>=2.23</text>
<text x="599.8" y="316.3" text-anchor="start" fill="#3b4fae" style="font-size:6.8px;" textLength="21.2" lengthAdjust="spacingAndGlyphs" ><tspan font-style="italic">R</tspan><tspan font-size="4" dy="-2.3">2</tspan><tspan dy="2.3">=0.935</tspan></text>
<circle cx="668.6" cy="251.6" r="1.15" fill="#f2c0b8" stroke="#d9473c" stroke-width="0.6"/>
<path d="M668.6,250.4 A1.15,1.15 0 0 1 668.6,252.8 Z" fill="#d9473c"/>
<text x="461.0" y="359.5" text-anchor="start" fill="#222" style="font-size:9.1px;font-weight:bold;" textLength="179.1" lengthAdjust="spacingAndGlyphs" >Crushing strength distribution characteristics</text>
</svg>
</body></html>
